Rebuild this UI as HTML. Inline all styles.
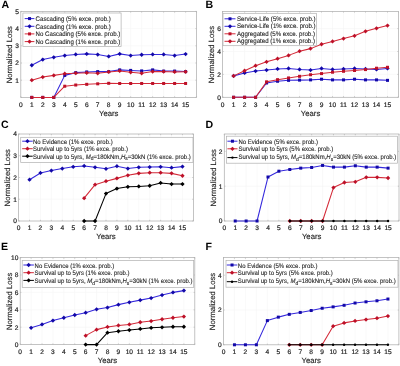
<!DOCTYPE html>
<html><head><meta charset="utf-8"><style>
html,body{margin:0;padding:0;background:#fff;width:400px;height:366px;overflow:hidden}
svg{display:block;font-family:"Liberation Sans", sans-serif;filter:blur(0.3px);text-rendering:geometricPrecision}
text.t{stroke:#2a2a2a;stroke-width:0.12px}
text.n{stroke:#262626;stroke-width:0.2px}
text.lab{stroke:#2a2a2a;stroke-width:0.16px}
</style></head><body>
<svg width="400" height="366" viewBox="0 0 400 366">
<rect width="400" height="366" fill="#fff"/>
<line x1="31.79" y1="11.4" x2="31.79" y2="97.4" stroke="#f5f5f5" stroke-width="0.6"/>
<line x1="42.77" y1="11.4" x2="42.77" y2="97.4" stroke="#f5f5f5" stroke-width="0.6"/>
<line x1="53.76" y1="11.4" x2="53.76" y2="97.4" stroke="#f5f5f5" stroke-width="0.6"/>
<line x1="64.75" y1="11.4" x2="64.75" y2="97.4" stroke="#f5f5f5" stroke-width="0.6"/>
<line x1="75.74" y1="11.4" x2="75.74" y2="97.4" stroke="#f5f5f5" stroke-width="0.6"/>
<line x1="86.72" y1="11.4" x2="86.72" y2="97.4" stroke="#f5f5f5" stroke-width="0.6"/>
<line x1="97.71" y1="11.4" x2="97.71" y2="97.4" stroke="#f5f5f5" stroke-width="0.6"/>
<line x1="108.70" y1="11.4" x2="108.70" y2="97.4" stroke="#f5f5f5" stroke-width="0.6"/>
<line x1="119.69" y1="11.4" x2="119.69" y2="97.4" stroke="#f5f5f5" stroke-width="0.6"/>
<line x1="130.67" y1="11.4" x2="130.67" y2="97.4" stroke="#f5f5f5" stroke-width="0.6"/>
<line x1="141.66" y1="11.4" x2="141.66" y2="97.4" stroke="#f5f5f5" stroke-width="0.6"/>
<line x1="152.65" y1="11.4" x2="152.65" y2="97.4" stroke="#f5f5f5" stroke-width="0.6"/>
<line x1="163.64" y1="11.4" x2="163.64" y2="97.4" stroke="#f5f5f5" stroke-width="0.6"/>
<line x1="174.62" y1="11.4" x2="174.62" y2="97.4" stroke="#f5f5f5" stroke-width="0.6"/>
<line x1="185.61" y1="11.4" x2="185.61" y2="97.4" stroke="#f5f5f5" stroke-width="0.6"/>
<line x1="20.8" y1="80.20" x2="196.6" y2="80.20" stroke="#f5f5f5" stroke-width="0.6"/>
<line x1="20.8" y1="63.00" x2="196.6" y2="63.00" stroke="#f5f5f5" stroke-width="0.6"/>
<line x1="20.8" y1="45.80" x2="196.6" y2="45.80" stroke="#f5f5f5" stroke-width="0.6"/>
<line x1="20.8" y1="28.60" x2="196.6" y2="28.60" stroke="#f5f5f5" stroke-width="0.6"/>
<rect x="20.8" y="11.4" width="175.80" height="86.00" fill="none" stroke="#b0b0b0" stroke-width="0.75"/>
<line x1="20.80" y1="97.4" x2="20.80" y2="96.2" stroke="#b0b0b0" stroke-width="0.6"/>
<line x1="20.80" y1="11.4" x2="20.80" y2="12.6" stroke="#b0b0b0" stroke-width="0.6"/>
<line x1="31.79" y1="97.4" x2="31.79" y2="96.2" stroke="#b0b0b0" stroke-width="0.6"/>
<line x1="31.79" y1="11.4" x2="31.79" y2="12.6" stroke="#b0b0b0" stroke-width="0.6"/>
<line x1="42.77" y1="97.4" x2="42.77" y2="96.2" stroke="#b0b0b0" stroke-width="0.6"/>
<line x1="42.77" y1="11.4" x2="42.77" y2="12.6" stroke="#b0b0b0" stroke-width="0.6"/>
<line x1="53.76" y1="97.4" x2="53.76" y2="96.2" stroke="#b0b0b0" stroke-width="0.6"/>
<line x1="53.76" y1="11.4" x2="53.76" y2="12.6" stroke="#b0b0b0" stroke-width="0.6"/>
<line x1="64.75" y1="97.4" x2="64.75" y2="96.2" stroke="#b0b0b0" stroke-width="0.6"/>
<line x1="64.75" y1="11.4" x2="64.75" y2="12.6" stroke="#b0b0b0" stroke-width="0.6"/>
<line x1="75.74" y1="97.4" x2="75.74" y2="96.2" stroke="#b0b0b0" stroke-width="0.6"/>
<line x1="75.74" y1="11.4" x2="75.74" y2="12.6" stroke="#b0b0b0" stroke-width="0.6"/>
<line x1="86.72" y1="97.4" x2="86.72" y2="96.2" stroke="#b0b0b0" stroke-width="0.6"/>
<line x1="86.72" y1="11.4" x2="86.72" y2="12.6" stroke="#b0b0b0" stroke-width="0.6"/>
<line x1="97.71" y1="97.4" x2="97.71" y2="96.2" stroke="#b0b0b0" stroke-width="0.6"/>
<line x1="97.71" y1="11.4" x2="97.71" y2="12.6" stroke="#b0b0b0" stroke-width="0.6"/>
<line x1="108.70" y1="97.4" x2="108.70" y2="96.2" stroke="#b0b0b0" stroke-width="0.6"/>
<line x1="108.70" y1="11.4" x2="108.70" y2="12.6" stroke="#b0b0b0" stroke-width="0.6"/>
<line x1="119.69" y1="97.4" x2="119.69" y2="96.2" stroke="#b0b0b0" stroke-width="0.6"/>
<line x1="119.69" y1="11.4" x2="119.69" y2="12.6" stroke="#b0b0b0" stroke-width="0.6"/>
<line x1="130.67" y1="97.4" x2="130.67" y2="96.2" stroke="#b0b0b0" stroke-width="0.6"/>
<line x1="130.67" y1="11.4" x2="130.67" y2="12.6" stroke="#b0b0b0" stroke-width="0.6"/>
<line x1="141.66" y1="97.4" x2="141.66" y2="96.2" stroke="#b0b0b0" stroke-width="0.6"/>
<line x1="141.66" y1="11.4" x2="141.66" y2="12.6" stroke="#b0b0b0" stroke-width="0.6"/>
<line x1="152.65" y1="97.4" x2="152.65" y2="96.2" stroke="#b0b0b0" stroke-width="0.6"/>
<line x1="152.65" y1="11.4" x2="152.65" y2="12.6" stroke="#b0b0b0" stroke-width="0.6"/>
<line x1="163.64" y1="97.4" x2="163.64" y2="96.2" stroke="#b0b0b0" stroke-width="0.6"/>
<line x1="163.64" y1="11.4" x2="163.64" y2="12.6" stroke="#b0b0b0" stroke-width="0.6"/>
<line x1="174.62" y1="97.4" x2="174.62" y2="96.2" stroke="#b0b0b0" stroke-width="0.6"/>
<line x1="174.62" y1="11.4" x2="174.62" y2="12.6" stroke="#b0b0b0" stroke-width="0.6"/>
<line x1="185.61" y1="97.4" x2="185.61" y2="96.2" stroke="#b0b0b0" stroke-width="0.6"/>
<line x1="185.61" y1="11.4" x2="185.61" y2="12.6" stroke="#b0b0b0" stroke-width="0.6"/>
<line x1="196.60" y1="97.4" x2="196.60" y2="96.2" stroke="#b0b0b0" stroke-width="0.6"/>
<line x1="196.60" y1="11.4" x2="196.60" y2="12.6" stroke="#b0b0b0" stroke-width="0.6"/>
<line x1="20.8" y1="97.40" x2="22.0" y2="97.40" stroke="#b0b0b0" stroke-width="0.6"/>
<line x1="196.6" y1="97.40" x2="195.4" y2="97.40" stroke="#b0b0b0" stroke-width="0.6"/>
<line x1="20.8" y1="80.20" x2="22.0" y2="80.20" stroke="#b0b0b0" stroke-width="0.6"/>
<line x1="196.6" y1="80.20" x2="195.4" y2="80.20" stroke="#b0b0b0" stroke-width="0.6"/>
<line x1="20.8" y1="63.00" x2="22.0" y2="63.00" stroke="#b0b0b0" stroke-width="0.6"/>
<line x1="196.6" y1="63.00" x2="195.4" y2="63.00" stroke="#b0b0b0" stroke-width="0.6"/>
<line x1="20.8" y1="45.80" x2="22.0" y2="45.80" stroke="#b0b0b0" stroke-width="0.6"/>
<line x1="196.6" y1="45.80" x2="195.4" y2="45.80" stroke="#b0b0b0" stroke-width="0.6"/>
<line x1="20.8" y1="28.60" x2="22.0" y2="28.60" stroke="#b0b0b0" stroke-width="0.6"/>
<line x1="196.6" y1="28.60" x2="195.4" y2="28.60" stroke="#b0b0b0" stroke-width="0.6"/>
<line x1="20.8" y1="11.40" x2="22.0" y2="11.40" stroke="#b0b0b0" stroke-width="0.6"/>
<line x1="196.6" y1="11.40" x2="195.4" y2="11.40" stroke="#b0b0b0" stroke-width="0.6"/>
<text x="20.80" y="106.80" class="n" text-anchor="middle" font-size="6.6" fill="#222">0</text>
<text x="31.79" y="106.80" class="n" text-anchor="middle" font-size="6.6" fill="#222">1</text>
<text x="42.77" y="106.80" class="n" text-anchor="middle" font-size="6.6" fill="#222">2</text>
<text x="53.76" y="106.80" class="n" text-anchor="middle" font-size="6.6" fill="#222">3</text>
<text x="64.75" y="106.80" class="n" text-anchor="middle" font-size="6.6" fill="#222">4</text>
<text x="75.74" y="106.80" class="n" text-anchor="middle" font-size="6.6" fill="#222">5</text>
<text x="86.72" y="106.80" class="n" text-anchor="middle" font-size="6.6" fill="#222">6</text>
<text x="97.71" y="106.80" class="n" text-anchor="middle" font-size="6.6" fill="#222">7</text>
<text x="108.70" y="106.80" class="n" text-anchor="middle" font-size="6.6" fill="#222">8</text>
<text x="119.69" y="106.80" class="n" text-anchor="middle" font-size="6.6" fill="#222">9</text>
<text x="130.67" y="106.80" class="n" text-anchor="middle" font-size="6.6" fill="#222">10</text>
<text x="141.66" y="106.80" class="n" text-anchor="middle" font-size="6.6" fill="#222">11</text>
<text x="152.65" y="106.80" class="n" text-anchor="middle" font-size="6.6" fill="#222">12</text>
<text x="163.64" y="106.80" class="n" text-anchor="middle" font-size="6.6" fill="#222">13</text>
<text x="174.62" y="106.80" class="n" text-anchor="middle" font-size="6.6" fill="#222">14</text>
<text x="185.61" y="106.80" class="n" text-anchor="middle" font-size="6.6" fill="#222">15</text>
<text x="19.00" y="82.60" class="n" text-anchor="end" font-size="6.6" fill="#222">1</text>
<text x="19.00" y="65.40" class="n" text-anchor="end" font-size="6.6" fill="#222">2</text>
<text x="19.00" y="48.20" class="n" text-anchor="end" font-size="6.6" fill="#222">3</text>
<text x="19.00" y="31.00" class="n" text-anchor="end" font-size="6.6" fill="#222">4</text>
<text x="19.00" y="13.80" class="n" text-anchor="end" font-size="6.6" fill="#222">5</text>
<text x="108.70" y="115.80" class="lab" text-anchor="middle" font-size="7.7" fill="#2a2a2a">Years</text>
<text transform="translate(12.30,54.70) rotate(-90)" x="0" y="0" class="lab" text-anchor="middle" font-size="7.7" fill="#2a2a2a">Normalized Loss</text>
<text x="1.5" y="7.5" font-size="10.6" font-weight="bold" fill="#000">A</text>
<polyline points="31.79,97.40 42.77,97.40 53.76,97.40 64.75,75.38 75.74,72.63 86.72,71.94 97.71,71.60 108.70,71.60 119.69,69.88 130.67,70.40 141.66,70.91 152.65,69.88 163.64,71.08 174.62,71.08 185.61,71.60" fill="none" stroke="#3428dc" stroke-width="1.05" stroke-linejoin="round"/>
<rect x="30.29" y="95.90" width="3.00" height="3.00" fill="#1208a8"/>
<rect x="41.27" y="95.90" width="3.00" height="3.00" fill="#1208a8"/>
<rect x="52.26" y="95.90" width="3.00" height="3.00" fill="#1208a8"/>
<rect x="63.25" y="73.88" width="3.00" height="3.00" fill="#1208a8"/>
<rect x="74.24" y="71.13" width="3.00" height="3.00" fill="#1208a8"/>
<rect x="85.22" y="70.44" width="3.00" height="3.00" fill="#1208a8"/>
<rect x="96.21" y="70.10" width="3.00" height="3.00" fill="#1208a8"/>
<rect x="107.20" y="70.10" width="3.00" height="3.00" fill="#1208a8"/>
<rect x="118.19" y="68.38" width="3.00" height="3.00" fill="#1208a8"/>
<rect x="129.17" y="68.90" width="3.00" height="3.00" fill="#1208a8"/>
<rect x="140.16" y="69.41" width="3.00" height="3.00" fill="#1208a8"/>
<rect x="151.15" y="68.38" width="3.00" height="3.00" fill="#1208a8"/>
<rect x="162.14" y="69.58" width="3.00" height="3.00" fill="#1208a8"/>
<rect x="173.12" y="69.58" width="3.00" height="3.00" fill="#1208a8"/>
<rect x="184.11" y="70.10" width="3.00" height="3.00" fill="#1208a8"/>
<polyline points="31.79,65.24 42.77,59.56 53.76,57.32 64.75,55.60 75.74,54.40 86.72,53.88 97.71,54.57 108.70,56.46 119.69,53.88 130.67,55.60 141.66,54.74 152.65,54.40 163.64,54.40 174.62,55.60 185.61,54.06" fill="none" stroke="#3428dc" stroke-width="1.05" stroke-linejoin="round"/>
<path d="M31.79 63.09L33.94 65.24L31.79 67.39L29.64 65.24Z" fill="#1208a8"/>
<path d="M42.77 57.41L44.92 59.56L42.77 61.71L40.62 59.56Z" fill="#1208a8"/>
<path d="M53.76 55.17L55.91 57.32L53.76 59.47L51.61 57.32Z" fill="#1208a8"/>
<path d="M64.75 53.45L66.90 55.60L64.75 57.75L62.60 55.60Z" fill="#1208a8"/>
<path d="M75.74 52.25L77.89 54.40L75.74 56.55L73.59 54.40Z" fill="#1208a8"/>
<path d="M86.72 51.73L88.88 53.88L86.72 56.03L84.57 53.88Z" fill="#1208a8"/>
<path d="M97.71 52.42L99.86 54.57L97.71 56.72L95.56 54.57Z" fill="#1208a8"/>
<path d="M108.70 54.31L110.85 56.46L108.70 58.61L106.55 56.46Z" fill="#1208a8"/>
<path d="M119.69 51.73L121.84 53.88L119.69 56.03L117.54 53.88Z" fill="#1208a8"/>
<path d="M130.67 53.45L132.82 55.60L130.67 57.75L128.52 55.60Z" fill="#1208a8"/>
<path d="M141.66 52.59L143.81 54.74L141.66 56.89L139.51 54.74Z" fill="#1208a8"/>
<path d="M152.65 52.25L154.80 54.40L152.65 56.55L150.50 54.40Z" fill="#1208a8"/>
<path d="M163.64 52.25L165.79 54.40L163.64 56.55L161.49 54.40Z" fill="#1208a8"/>
<path d="M174.62 53.45L176.78 55.60L174.62 57.75L172.47 55.60Z" fill="#1208a8"/>
<path d="M185.61 51.91L187.76 54.06L185.61 56.21L183.46 54.06Z" fill="#1208a8"/>
<polyline points="31.79,97.40 42.77,97.40 53.76,97.40 64.75,86.22 75.74,85.02 86.72,84.33 97.71,83.81 108.70,83.30 119.69,83.47 130.67,83.47 141.66,83.47 152.65,83.47 163.64,83.47 174.62,83.47 185.61,83.47" fill="none" stroke="#d42a38" stroke-width="1.05" stroke-linejoin="round"/>
<rect x="30.29" y="95.90" width="3.00" height="3.00" fill="#bd1028"/>
<rect x="41.27" y="95.90" width="3.00" height="3.00" fill="#bd1028"/>
<rect x="52.26" y="95.90" width="3.00" height="3.00" fill="#bd1028"/>
<rect x="63.25" y="84.72" width="3.00" height="3.00" fill="#bd1028"/>
<rect x="74.24" y="83.52" width="3.00" height="3.00" fill="#bd1028"/>
<rect x="85.22" y="82.83" width="3.00" height="3.00" fill="#bd1028"/>
<rect x="96.21" y="82.31" width="3.00" height="3.00" fill="#bd1028"/>
<rect x="107.20" y="81.80" width="3.00" height="3.00" fill="#bd1028"/>
<rect x="118.19" y="81.97" width="3.00" height="3.00" fill="#bd1028"/>
<rect x="129.17" y="81.97" width="3.00" height="3.00" fill="#bd1028"/>
<rect x="140.16" y="81.97" width="3.00" height="3.00" fill="#bd1028"/>
<rect x="151.15" y="81.97" width="3.00" height="3.00" fill="#bd1028"/>
<rect x="162.14" y="81.97" width="3.00" height="3.00" fill="#bd1028"/>
<rect x="173.12" y="81.97" width="3.00" height="3.00" fill="#bd1028"/>
<rect x="184.11" y="81.97" width="3.00" height="3.00" fill="#bd1028"/>
<polyline points="31.79,80.20 42.77,77.10 53.76,75.38 64.75,73.66 75.74,73.15 86.72,72.80 97.71,73.32 108.70,71.94 119.69,70.91 130.67,72.29 141.66,73.32 152.65,71.60 163.64,71.60 174.62,71.94 185.61,71.77" fill="none" stroke="#d42a38" stroke-width="1.05" stroke-linejoin="round"/>
<path d="M31.79 78.05L33.94 80.20L31.79 82.35L29.64 80.20Z" fill="#bd1028"/>
<path d="M42.77 74.95L44.92 77.10L42.77 79.25L40.62 77.10Z" fill="#bd1028"/>
<path d="M53.76 73.23L55.91 75.38L53.76 77.53L51.61 75.38Z" fill="#bd1028"/>
<path d="M64.75 71.51L66.90 73.66L64.75 75.81L62.60 73.66Z" fill="#bd1028"/>
<path d="M75.74 71.00L77.89 73.15L75.74 75.30L73.59 73.15Z" fill="#bd1028"/>
<path d="M86.72 70.65L88.88 72.80L86.72 74.95L84.57 72.80Z" fill="#bd1028"/>
<path d="M97.71 71.17L99.86 73.32L97.71 75.47L95.56 73.32Z" fill="#bd1028"/>
<path d="M108.70 69.79L110.85 71.94L108.70 74.09L106.55 71.94Z" fill="#bd1028"/>
<path d="M119.69 68.76L121.84 70.91L119.69 73.06L117.54 70.91Z" fill="#bd1028"/>
<path d="M130.67 70.14L132.82 72.29L130.67 74.44L128.52 72.29Z" fill="#bd1028"/>
<path d="M141.66 71.17L143.81 73.32L141.66 75.47L139.51 73.32Z" fill="#bd1028"/>
<path d="M152.65 69.45L154.80 71.60L152.65 73.75L150.50 71.60Z" fill="#bd1028"/>
<path d="M163.64 69.45L165.79 71.60L163.64 73.75L161.49 71.60Z" fill="#bd1028"/>
<path d="M174.62 69.79L176.78 71.94L174.62 74.09L172.47 71.94Z" fill="#bd1028"/>
<path d="M185.61 69.62L187.76 71.77L185.61 73.92L183.46 71.77Z" fill="#bd1028"/>
<rect x="22.9" y="13.0" width="98.2" height="33.6" fill="#fff" stroke="#b0b0b0" stroke-width="0.7"/>
<line x1="24.7" y1="18.6" x2="34.4" y2="18.6" stroke="#3428dc" stroke-width="1.0"/>
<rect x="28.05" y="17.10" width="3.00" height="3.00" fill="#1208a8"/>
<text transform="translate(35.6,20.80) scale(0.92,1)" font-size="6.63" fill="#262626" class="t">Cascading (5% exce. prob.)</text>
<line x1="24.7" y1="26.3" x2="34.4" y2="26.3" stroke="#3428dc" stroke-width="1.0"/>
<path d="M29.55 24.15L31.70 26.30L29.55 28.45L27.40 26.30Z" fill="#1208a8"/>
<text transform="translate(35.6,28.50) scale(0.92,1)" font-size="6.63" fill="#262626" class="t">Cascading (1% exce. prob.)</text>
<line x1="24.7" y1="33.9" x2="34.4" y2="33.9" stroke="#d42a38" stroke-width="1.0"/>
<rect x="28.05" y="32.40" width="3.00" height="3.00" fill="#bd1028"/>
<text transform="translate(35.6,36.10) scale(0.92,1)" font-size="6.63" fill="#262626" class="t">No Cascading (5% exce. prob.)</text>
<line x1="24.7" y1="41.6" x2="34.4" y2="41.6" stroke="#d42a38" stroke-width="1.0"/>
<path d="M29.55 39.45L31.70 41.60L29.55 43.75L27.40 41.60Z" fill="#bd1028"/>
<text transform="translate(35.6,43.80) scale(0.92,1)" font-size="6.63" fill="#262626" class="t">No Cascading (1% exce. prob.)</text>
<line x1="233.59" y1="11.4" x2="233.59" y2="97.3" stroke="#f5f5f5" stroke-width="0.6"/>
<line x1="244.59" y1="11.4" x2="244.59" y2="97.3" stroke="#f5f5f5" stroke-width="0.6"/>
<line x1="255.58" y1="11.4" x2="255.58" y2="97.3" stroke="#f5f5f5" stroke-width="0.6"/>
<line x1="266.57" y1="11.4" x2="266.57" y2="97.3" stroke="#f5f5f5" stroke-width="0.6"/>
<line x1="277.57" y1="11.4" x2="277.57" y2="97.3" stroke="#f5f5f5" stroke-width="0.6"/>
<line x1="288.56" y1="11.4" x2="288.56" y2="97.3" stroke="#f5f5f5" stroke-width="0.6"/>
<line x1="299.56" y1="11.4" x2="299.56" y2="97.3" stroke="#f5f5f5" stroke-width="0.6"/>
<line x1="310.55" y1="11.4" x2="310.55" y2="97.3" stroke="#f5f5f5" stroke-width="0.6"/>
<line x1="321.54" y1="11.4" x2="321.54" y2="97.3" stroke="#f5f5f5" stroke-width="0.6"/>
<line x1="332.54" y1="11.4" x2="332.54" y2="97.3" stroke="#f5f5f5" stroke-width="0.6"/>
<line x1="343.53" y1="11.4" x2="343.53" y2="97.3" stroke="#f5f5f5" stroke-width="0.6"/>
<line x1="354.52" y1="11.4" x2="354.52" y2="97.3" stroke="#f5f5f5" stroke-width="0.6"/>
<line x1="365.52" y1="11.4" x2="365.52" y2="97.3" stroke="#f5f5f5" stroke-width="0.6"/>
<line x1="376.51" y1="11.4" x2="376.51" y2="97.3" stroke="#f5f5f5" stroke-width="0.6"/>
<line x1="387.51" y1="11.4" x2="387.51" y2="97.3" stroke="#f5f5f5" stroke-width="0.6"/>
<line x1="222.6" y1="74.39" x2="398.5" y2="74.39" stroke="#f5f5f5" stroke-width="0.6"/>
<line x1="222.6" y1="51.49" x2="398.5" y2="51.49" stroke="#f5f5f5" stroke-width="0.6"/>
<line x1="222.6" y1="28.58" x2="398.5" y2="28.58" stroke="#f5f5f5" stroke-width="0.6"/>
<rect x="222.6" y="11.4" width="175.90" height="85.90" fill="none" stroke="#b0b0b0" stroke-width="0.75"/>
<line x1="222.60" y1="97.3" x2="222.60" y2="96.1" stroke="#b0b0b0" stroke-width="0.6"/>
<line x1="222.60" y1="11.4" x2="222.60" y2="12.6" stroke="#b0b0b0" stroke-width="0.6"/>
<line x1="233.59" y1="97.3" x2="233.59" y2="96.1" stroke="#b0b0b0" stroke-width="0.6"/>
<line x1="233.59" y1="11.4" x2="233.59" y2="12.6" stroke="#b0b0b0" stroke-width="0.6"/>
<line x1="244.59" y1="97.3" x2="244.59" y2="96.1" stroke="#b0b0b0" stroke-width="0.6"/>
<line x1="244.59" y1="11.4" x2="244.59" y2="12.6" stroke="#b0b0b0" stroke-width="0.6"/>
<line x1="255.58" y1="97.3" x2="255.58" y2="96.1" stroke="#b0b0b0" stroke-width="0.6"/>
<line x1="255.58" y1="11.4" x2="255.58" y2="12.6" stroke="#b0b0b0" stroke-width="0.6"/>
<line x1="266.57" y1="97.3" x2="266.57" y2="96.1" stroke="#b0b0b0" stroke-width="0.6"/>
<line x1="266.57" y1="11.4" x2="266.57" y2="12.6" stroke="#b0b0b0" stroke-width="0.6"/>
<line x1="277.57" y1="97.3" x2="277.57" y2="96.1" stroke="#b0b0b0" stroke-width="0.6"/>
<line x1="277.57" y1="11.4" x2="277.57" y2="12.6" stroke="#b0b0b0" stroke-width="0.6"/>
<line x1="288.56" y1="97.3" x2="288.56" y2="96.1" stroke="#b0b0b0" stroke-width="0.6"/>
<line x1="288.56" y1="11.4" x2="288.56" y2="12.6" stroke="#b0b0b0" stroke-width="0.6"/>
<line x1="299.56" y1="97.3" x2="299.56" y2="96.1" stroke="#b0b0b0" stroke-width="0.6"/>
<line x1="299.56" y1="11.4" x2="299.56" y2="12.6" stroke="#b0b0b0" stroke-width="0.6"/>
<line x1="310.55" y1="97.3" x2="310.55" y2="96.1" stroke="#b0b0b0" stroke-width="0.6"/>
<line x1="310.55" y1="11.4" x2="310.55" y2="12.6" stroke="#b0b0b0" stroke-width="0.6"/>
<line x1="321.54" y1="97.3" x2="321.54" y2="96.1" stroke="#b0b0b0" stroke-width="0.6"/>
<line x1="321.54" y1="11.4" x2="321.54" y2="12.6" stroke="#b0b0b0" stroke-width="0.6"/>
<line x1="332.54" y1="97.3" x2="332.54" y2="96.1" stroke="#b0b0b0" stroke-width="0.6"/>
<line x1="332.54" y1="11.4" x2="332.54" y2="12.6" stroke="#b0b0b0" stroke-width="0.6"/>
<line x1="343.53" y1="97.3" x2="343.53" y2="96.1" stroke="#b0b0b0" stroke-width="0.6"/>
<line x1="343.53" y1="11.4" x2="343.53" y2="12.6" stroke="#b0b0b0" stroke-width="0.6"/>
<line x1="354.52" y1="97.3" x2="354.52" y2="96.1" stroke="#b0b0b0" stroke-width="0.6"/>
<line x1="354.52" y1="11.4" x2="354.52" y2="12.6" stroke="#b0b0b0" stroke-width="0.6"/>
<line x1="365.52" y1="97.3" x2="365.52" y2="96.1" stroke="#b0b0b0" stroke-width="0.6"/>
<line x1="365.52" y1="11.4" x2="365.52" y2="12.6" stroke="#b0b0b0" stroke-width="0.6"/>
<line x1="376.51" y1="97.3" x2="376.51" y2="96.1" stroke="#b0b0b0" stroke-width="0.6"/>
<line x1="376.51" y1="11.4" x2="376.51" y2="12.6" stroke="#b0b0b0" stroke-width="0.6"/>
<line x1="387.51" y1="97.3" x2="387.51" y2="96.1" stroke="#b0b0b0" stroke-width="0.6"/>
<line x1="387.51" y1="11.4" x2="387.51" y2="12.6" stroke="#b0b0b0" stroke-width="0.6"/>
<line x1="398.50" y1="97.3" x2="398.50" y2="96.1" stroke="#b0b0b0" stroke-width="0.6"/>
<line x1="398.50" y1="11.4" x2="398.50" y2="12.6" stroke="#b0b0b0" stroke-width="0.6"/>
<line x1="222.6" y1="97.30" x2="223.79999999999998" y2="97.30" stroke="#b0b0b0" stroke-width="0.6"/>
<line x1="398.5" y1="97.30" x2="397.3" y2="97.30" stroke="#b0b0b0" stroke-width="0.6"/>
<line x1="222.6" y1="74.39" x2="223.79999999999998" y2="74.39" stroke="#b0b0b0" stroke-width="0.6"/>
<line x1="398.5" y1="74.39" x2="397.3" y2="74.39" stroke="#b0b0b0" stroke-width="0.6"/>
<line x1="222.6" y1="51.49" x2="223.79999999999998" y2="51.49" stroke="#b0b0b0" stroke-width="0.6"/>
<line x1="398.5" y1="51.49" x2="397.3" y2="51.49" stroke="#b0b0b0" stroke-width="0.6"/>
<line x1="222.6" y1="28.58" x2="223.79999999999998" y2="28.58" stroke="#b0b0b0" stroke-width="0.6"/>
<line x1="398.5" y1="28.58" x2="397.3" y2="28.58" stroke="#b0b0b0" stroke-width="0.6"/>
<text x="222.60" y="106.70" class="n" text-anchor="middle" font-size="6.6" fill="#222">0</text>
<text x="233.59" y="106.70" class="n" text-anchor="middle" font-size="6.6" fill="#222">1</text>
<text x="244.59" y="106.70" class="n" text-anchor="middle" font-size="6.6" fill="#222">2</text>
<text x="255.58" y="106.70" class="n" text-anchor="middle" font-size="6.6" fill="#222">3</text>
<text x="266.57" y="106.70" class="n" text-anchor="middle" font-size="6.6" fill="#222">4</text>
<text x="277.57" y="106.70" class="n" text-anchor="middle" font-size="6.6" fill="#222">5</text>
<text x="288.56" y="106.70" class="n" text-anchor="middle" font-size="6.6" fill="#222">6</text>
<text x="299.56" y="106.70" class="n" text-anchor="middle" font-size="6.6" fill="#222">7</text>
<text x="310.55" y="106.70" class="n" text-anchor="middle" font-size="6.6" fill="#222">8</text>
<text x="321.54" y="106.70" class="n" text-anchor="middle" font-size="6.6" fill="#222">9</text>
<text x="332.54" y="106.70" class="n" text-anchor="middle" font-size="6.6" fill="#222">10</text>
<text x="343.53" y="106.70" class="n" text-anchor="middle" font-size="6.6" fill="#222">11</text>
<text x="354.52" y="106.70" class="n" text-anchor="middle" font-size="6.6" fill="#222">12</text>
<text x="365.52" y="106.70" class="n" text-anchor="middle" font-size="6.6" fill="#222">13</text>
<text x="376.51" y="106.70" class="n" text-anchor="middle" font-size="6.6" fill="#222">14</text>
<text x="387.51" y="106.70" class="n" text-anchor="middle" font-size="6.6" fill="#222">15</text>
<text x="220.80" y="99.70" class="n" text-anchor="end" font-size="6.6" fill="#222">0</text>
<text x="220.80" y="76.79" class="n" text-anchor="end" font-size="6.6" fill="#222">2</text>
<text x="220.80" y="53.89" class="n" text-anchor="end" font-size="6.6" fill="#222">4</text>
<text x="220.80" y="30.98" class="n" text-anchor="end" font-size="6.6" fill="#222">6</text>
<text x="310.55" y="115.70" class="lab" text-anchor="middle" font-size="7.7" fill="#2a2a2a">Years</text>
<text transform="translate(214.10,54.65) rotate(-90)" x="0" y="0" class="lab" text-anchor="middle" font-size="7.7" fill="#2a2a2a">Normalized Loss</text>
<text x="205.5" y="7.5" font-size="10.6" font-weight="bold" fill="#000">B</text>
<polyline points="233.59,97.30 244.59,97.30 255.58,97.30 266.57,82.98 277.57,81.27 288.56,80.35 299.56,80.12 310.55,79.89 321.54,79.20 332.54,79.89 343.53,79.89 354.52,79.20 365.52,79.89 376.51,79.89 387.51,80.35" fill="none" stroke="#3428dc" stroke-width="1.05" stroke-linejoin="round"/>
<rect x="232.09" y="95.80" width="3.00" height="3.00" fill="#1208a8"/>
<rect x="243.09" y="95.80" width="3.00" height="3.00" fill="#1208a8"/>
<rect x="254.08" y="95.80" width="3.00" height="3.00" fill="#1208a8"/>
<rect x="265.07" y="81.48" width="3.00" height="3.00" fill="#1208a8"/>
<rect x="276.07" y="79.77" width="3.00" height="3.00" fill="#1208a8"/>
<rect x="287.06" y="78.85" width="3.00" height="3.00" fill="#1208a8"/>
<rect x="298.06" y="78.62" width="3.00" height="3.00" fill="#1208a8"/>
<rect x="309.05" y="78.39" width="3.00" height="3.00" fill="#1208a8"/>
<rect x="320.04" y="77.70" width="3.00" height="3.00" fill="#1208a8"/>
<rect x="331.04" y="78.39" width="3.00" height="3.00" fill="#1208a8"/>
<rect x="342.03" y="78.39" width="3.00" height="3.00" fill="#1208a8"/>
<rect x="353.02" y="77.70" width="3.00" height="3.00" fill="#1208a8"/>
<rect x="364.02" y="78.39" width="3.00" height="3.00" fill="#1208a8"/>
<rect x="375.01" y="78.39" width="3.00" height="3.00" fill="#1208a8"/>
<rect x="386.01" y="78.85" width="3.00" height="3.00" fill="#1208a8"/>
<polyline points="233.59,75.88 244.59,72.90 255.58,71.07 266.57,70.04 277.57,68.90 288.56,68.44 299.56,69.47 310.55,70.04 321.54,68.44 332.54,69.47 343.53,68.90 354.52,68.44 365.52,68.90 376.51,69.47 387.51,68.44" fill="none" stroke="#3428dc" stroke-width="1.05" stroke-linejoin="round"/>
<path d="M233.59 73.73L235.74 75.88L233.59 78.03L231.44 75.88Z" fill="#1208a8"/>
<path d="M244.59 70.75L246.74 72.90L244.59 75.05L242.44 72.90Z" fill="#1208a8"/>
<path d="M255.58 68.92L257.73 71.07L255.58 73.22L253.43 71.07Z" fill="#1208a8"/>
<path d="M266.57 67.89L268.72 70.04L266.57 72.19L264.43 70.04Z" fill="#1208a8"/>
<path d="M277.57 66.75L279.72 68.90L277.57 71.05L275.42 68.90Z" fill="#1208a8"/>
<path d="M288.56 66.29L290.71 68.44L288.56 70.59L286.41 68.44Z" fill="#1208a8"/>
<path d="M299.56 67.32L301.71 69.47L299.56 71.62L297.41 69.47Z" fill="#1208a8"/>
<path d="M310.55 67.89L312.70 70.04L310.55 72.19L308.40 70.04Z" fill="#1208a8"/>
<path d="M321.54 66.29L323.69 68.44L321.54 70.59L319.39 68.44Z" fill="#1208a8"/>
<path d="M332.54 67.32L334.69 69.47L332.54 71.62L330.39 69.47Z" fill="#1208a8"/>
<path d="M343.53 66.75L345.68 68.90L343.53 71.05L341.38 68.90Z" fill="#1208a8"/>
<path d="M354.52 66.29L356.67 68.44L354.52 70.59L352.38 68.44Z" fill="#1208a8"/>
<path d="M365.52 66.75L367.67 68.90L365.52 71.05L363.37 68.90Z" fill="#1208a8"/>
<path d="M376.51 67.32L378.66 69.47L376.51 71.62L374.36 69.47Z" fill="#1208a8"/>
<path d="M387.51 66.29L389.66 68.44L387.51 70.59L385.36 68.44Z" fill="#1208a8"/>
<polyline points="233.59,97.30 244.59,97.30 255.58,97.30 266.57,81.84 277.57,79.66 288.56,77.94 299.56,76.34 310.55,74.74 321.54,73.59 332.54,72.22 343.53,71.30 354.52,70.50 365.52,69.58 376.51,68.21 387.51,67.29" fill="none" stroke="#d42a38" stroke-width="1.05" stroke-linejoin="round"/>
<rect x="232.09" y="95.80" width="3.00" height="3.00" fill="#bd1028"/>
<rect x="243.09" y="95.80" width="3.00" height="3.00" fill="#bd1028"/>
<rect x="254.08" y="95.80" width="3.00" height="3.00" fill="#bd1028"/>
<rect x="265.07" y="80.34" width="3.00" height="3.00" fill="#bd1028"/>
<rect x="276.07" y="78.16" width="3.00" height="3.00" fill="#bd1028"/>
<rect x="287.06" y="76.44" width="3.00" height="3.00" fill="#bd1028"/>
<rect x="298.06" y="74.84" width="3.00" height="3.00" fill="#bd1028"/>
<rect x="309.05" y="73.24" width="3.00" height="3.00" fill="#bd1028"/>
<rect x="320.04" y="72.09" width="3.00" height="3.00" fill="#bd1028"/>
<rect x="331.04" y="70.72" width="3.00" height="3.00" fill="#bd1028"/>
<rect x="342.03" y="69.80" width="3.00" height="3.00" fill="#bd1028"/>
<rect x="353.02" y="69.00" width="3.00" height="3.00" fill="#bd1028"/>
<rect x="364.02" y="68.08" width="3.00" height="3.00" fill="#bd1028"/>
<rect x="375.01" y="66.71" width="3.00" height="3.00" fill="#bd1028"/>
<rect x="386.01" y="65.79" width="3.00" height="3.00" fill="#bd1028"/>
<polyline points="233.59,75.88 244.59,70.73 255.58,65.69 266.57,61.79 277.57,58.70 288.56,55.38 299.56,51.14 310.55,48.62 321.54,44.27 332.54,41.41 343.53,38.54 354.52,35.80 365.52,31.33 376.51,28.35 387.51,25.60" fill="none" stroke="#d42a38" stroke-width="1.05" stroke-linejoin="round"/>
<path d="M233.59 73.73L235.74 75.88L233.59 78.03L231.44 75.88Z" fill="#bd1028"/>
<path d="M244.59 68.58L246.74 70.73L244.59 72.88L242.44 70.73Z" fill="#bd1028"/>
<path d="M255.58 63.54L257.73 65.69L255.58 67.84L253.43 65.69Z" fill="#bd1028"/>
<path d="M266.57 59.64L268.72 61.79L266.57 63.94L264.43 61.79Z" fill="#bd1028"/>
<path d="M277.57 56.55L279.72 58.70L277.57 60.85L275.42 58.70Z" fill="#bd1028"/>
<path d="M288.56 53.23L290.71 55.38L288.56 57.53L286.41 55.38Z" fill="#bd1028"/>
<path d="M299.56 48.99L301.71 51.14L299.56 53.29L297.41 51.14Z" fill="#bd1028"/>
<path d="M310.55 46.47L312.70 48.62L310.55 50.77L308.40 48.62Z" fill="#bd1028"/>
<path d="M321.54 42.12L323.69 44.27L321.54 46.42L319.39 44.27Z" fill="#bd1028"/>
<path d="M332.54 39.26L334.69 41.41L332.54 43.56L330.39 41.41Z" fill="#bd1028"/>
<path d="M343.53 36.39L345.68 38.54L343.53 40.69L341.38 38.54Z" fill="#bd1028"/>
<path d="M354.52 33.65L356.67 35.80L354.52 37.95L352.38 35.80Z" fill="#bd1028"/>
<path d="M365.52 29.18L367.67 31.33L365.52 33.48L363.37 31.33Z" fill="#bd1028"/>
<path d="M376.51 26.20L378.66 28.35L376.51 30.50L374.36 28.35Z" fill="#bd1028"/>
<path d="M387.51 23.45L389.66 25.60L387.51 27.75L385.36 25.60Z" fill="#bd1028"/>
<rect x="223.0" y="13.3" width="93.6" height="32.4" fill="#fff" stroke="#b0b0b0" stroke-width="0.7"/>
<line x1="224.5" y1="18.8" x2="235.5" y2="18.8" stroke="#3428dc" stroke-width="1.0"/>
<rect x="228.50" y="17.30" width="3.00" height="3.00" fill="#1208a8"/>
<text transform="translate(237.0,20.90) scale(0.92,1)" font-size="6.63" fill="#262626" class="t">Service-Life (5% exce. prob.)</text>
<line x1="224.5" y1="26.3" x2="235.5" y2="26.3" stroke="#3428dc" stroke-width="1.0"/>
<path d="M230.00 24.15L232.15 26.30L230.00 28.45L227.85 26.30Z" fill="#1208a8"/>
<text transform="translate(237.0,28.40) scale(0.92,1)" font-size="6.63" fill="#262626" class="t">Service-Life (1% exce. prob.)</text>
<line x1="224.5" y1="33.8" x2="235.5" y2="33.8" stroke="#d42a38" stroke-width="1.0"/>
<rect x="228.50" y="32.30" width="3.00" height="3.00" fill="#bd1028"/>
<text transform="translate(237.0,35.90) scale(0.92,1)" font-size="6.63" fill="#262626" class="t">Aggregated (5% exce. prob.)</text>
<line x1="224.5" y1="41.3" x2="235.5" y2="41.3" stroke="#d42a38" stroke-width="1.0"/>
<path d="M230.00 39.15L232.15 41.30L230.00 43.45L227.85 41.30Z" fill="#bd1028"/>
<text transform="translate(237.0,43.40) scale(0.92,1)" font-size="6.63" fill="#262626" class="t">Aggregated (1% exce. prob.)</text>
<line x1="29.53" y1="134.0" x2="29.53" y2="221.0" stroke="#f5f5f5" stroke-width="0.6"/>
<line x1="40.45" y1="134.0" x2="40.45" y2="221.0" stroke="#f5f5f5" stroke-width="0.6"/>
<line x1="51.38" y1="134.0" x2="51.38" y2="221.0" stroke="#f5f5f5" stroke-width="0.6"/>
<line x1="62.30" y1="134.0" x2="62.30" y2="221.0" stroke="#f5f5f5" stroke-width="0.6"/>
<line x1="73.22" y1="134.0" x2="73.22" y2="221.0" stroke="#f5f5f5" stroke-width="0.6"/>
<line x1="84.15" y1="134.0" x2="84.15" y2="221.0" stroke="#f5f5f5" stroke-width="0.6"/>
<line x1="95.08" y1="134.0" x2="95.08" y2="221.0" stroke="#f5f5f5" stroke-width="0.6"/>
<line x1="106.00" y1="134.0" x2="106.00" y2="221.0" stroke="#f5f5f5" stroke-width="0.6"/>
<line x1="116.93" y1="134.0" x2="116.93" y2="221.0" stroke="#f5f5f5" stroke-width="0.6"/>
<line x1="127.85" y1="134.0" x2="127.85" y2="221.0" stroke="#f5f5f5" stroke-width="0.6"/>
<line x1="138.78" y1="134.0" x2="138.78" y2="221.0" stroke="#f5f5f5" stroke-width="0.6"/>
<line x1="149.70" y1="134.0" x2="149.70" y2="221.0" stroke="#f5f5f5" stroke-width="0.6"/>
<line x1="160.62" y1="134.0" x2="160.62" y2="221.0" stroke="#f5f5f5" stroke-width="0.6"/>
<line x1="171.55" y1="134.0" x2="171.55" y2="221.0" stroke="#f5f5f5" stroke-width="0.6"/>
<line x1="182.47" y1="134.0" x2="182.47" y2="221.0" stroke="#f5f5f5" stroke-width="0.6"/>
<line x1="18.6" y1="199.25" x2="193.4" y2="199.25" stroke="#f5f5f5" stroke-width="0.6"/>
<line x1="18.6" y1="177.50" x2="193.4" y2="177.50" stroke="#f5f5f5" stroke-width="0.6"/>
<line x1="18.6" y1="155.75" x2="193.4" y2="155.75" stroke="#f5f5f5" stroke-width="0.6"/>
<rect x="18.6" y="134.0" width="174.80" height="87.00" fill="none" stroke="#b0b0b0" stroke-width="0.75"/>
<line x1="18.60" y1="221.0" x2="18.60" y2="219.8" stroke="#b0b0b0" stroke-width="0.6"/>
<line x1="18.60" y1="134.0" x2="18.60" y2="135.2" stroke="#b0b0b0" stroke-width="0.6"/>
<line x1="29.53" y1="221.0" x2="29.53" y2="219.8" stroke="#b0b0b0" stroke-width="0.6"/>
<line x1="29.53" y1="134.0" x2="29.53" y2="135.2" stroke="#b0b0b0" stroke-width="0.6"/>
<line x1="40.45" y1="221.0" x2="40.45" y2="219.8" stroke="#b0b0b0" stroke-width="0.6"/>
<line x1="40.45" y1="134.0" x2="40.45" y2="135.2" stroke="#b0b0b0" stroke-width="0.6"/>
<line x1="51.38" y1="221.0" x2="51.38" y2="219.8" stroke="#b0b0b0" stroke-width="0.6"/>
<line x1="51.38" y1="134.0" x2="51.38" y2="135.2" stroke="#b0b0b0" stroke-width="0.6"/>
<line x1="62.30" y1="221.0" x2="62.30" y2="219.8" stroke="#b0b0b0" stroke-width="0.6"/>
<line x1="62.30" y1="134.0" x2="62.30" y2="135.2" stroke="#b0b0b0" stroke-width="0.6"/>
<line x1="73.22" y1="221.0" x2="73.22" y2="219.8" stroke="#b0b0b0" stroke-width="0.6"/>
<line x1="73.22" y1="134.0" x2="73.22" y2="135.2" stroke="#b0b0b0" stroke-width="0.6"/>
<line x1="84.15" y1="221.0" x2="84.15" y2="219.8" stroke="#b0b0b0" stroke-width="0.6"/>
<line x1="84.15" y1="134.0" x2="84.15" y2="135.2" stroke="#b0b0b0" stroke-width="0.6"/>
<line x1="95.08" y1="221.0" x2="95.08" y2="219.8" stroke="#b0b0b0" stroke-width="0.6"/>
<line x1="95.08" y1="134.0" x2="95.08" y2="135.2" stroke="#b0b0b0" stroke-width="0.6"/>
<line x1="106.00" y1="221.0" x2="106.00" y2="219.8" stroke="#b0b0b0" stroke-width="0.6"/>
<line x1="106.00" y1="134.0" x2="106.00" y2="135.2" stroke="#b0b0b0" stroke-width="0.6"/>
<line x1="116.93" y1="221.0" x2="116.93" y2="219.8" stroke="#b0b0b0" stroke-width="0.6"/>
<line x1="116.93" y1="134.0" x2="116.93" y2="135.2" stroke="#b0b0b0" stroke-width="0.6"/>
<line x1="127.85" y1="221.0" x2="127.85" y2="219.8" stroke="#b0b0b0" stroke-width="0.6"/>
<line x1="127.85" y1="134.0" x2="127.85" y2="135.2" stroke="#b0b0b0" stroke-width="0.6"/>
<line x1="138.78" y1="221.0" x2="138.78" y2="219.8" stroke="#b0b0b0" stroke-width="0.6"/>
<line x1="138.78" y1="134.0" x2="138.78" y2="135.2" stroke="#b0b0b0" stroke-width="0.6"/>
<line x1="149.70" y1="221.0" x2="149.70" y2="219.8" stroke="#b0b0b0" stroke-width="0.6"/>
<line x1="149.70" y1="134.0" x2="149.70" y2="135.2" stroke="#b0b0b0" stroke-width="0.6"/>
<line x1="160.62" y1="221.0" x2="160.62" y2="219.8" stroke="#b0b0b0" stroke-width="0.6"/>
<line x1="160.62" y1="134.0" x2="160.62" y2="135.2" stroke="#b0b0b0" stroke-width="0.6"/>
<line x1="171.55" y1="221.0" x2="171.55" y2="219.8" stroke="#b0b0b0" stroke-width="0.6"/>
<line x1="171.55" y1="134.0" x2="171.55" y2="135.2" stroke="#b0b0b0" stroke-width="0.6"/>
<line x1="182.47" y1="221.0" x2="182.47" y2="219.8" stroke="#b0b0b0" stroke-width="0.6"/>
<line x1="182.47" y1="134.0" x2="182.47" y2="135.2" stroke="#b0b0b0" stroke-width="0.6"/>
<line x1="193.40" y1="221.0" x2="193.40" y2="219.8" stroke="#b0b0b0" stroke-width="0.6"/>
<line x1="193.40" y1="134.0" x2="193.40" y2="135.2" stroke="#b0b0b0" stroke-width="0.6"/>
<line x1="18.6" y1="221.00" x2="19.8" y2="221.00" stroke="#b0b0b0" stroke-width="0.6"/>
<line x1="193.4" y1="221.00" x2="192.20000000000002" y2="221.00" stroke="#b0b0b0" stroke-width="0.6"/>
<line x1="18.6" y1="199.25" x2="19.8" y2="199.25" stroke="#b0b0b0" stroke-width="0.6"/>
<line x1="193.4" y1="199.25" x2="192.20000000000002" y2="199.25" stroke="#b0b0b0" stroke-width="0.6"/>
<line x1="18.6" y1="177.50" x2="19.8" y2="177.50" stroke="#b0b0b0" stroke-width="0.6"/>
<line x1="193.4" y1="177.50" x2="192.20000000000002" y2="177.50" stroke="#b0b0b0" stroke-width="0.6"/>
<line x1="18.6" y1="155.75" x2="19.8" y2="155.75" stroke="#b0b0b0" stroke-width="0.6"/>
<line x1="193.4" y1="155.75" x2="192.20000000000002" y2="155.75" stroke="#b0b0b0" stroke-width="0.6"/>
<line x1="18.6" y1="134.00" x2="19.8" y2="134.00" stroke="#b0b0b0" stroke-width="0.6"/>
<line x1="193.4" y1="134.00" x2="192.20000000000002" y2="134.00" stroke="#b0b0b0" stroke-width="0.6"/>
<text x="18.60" y="230.40" class="n" text-anchor="middle" font-size="6.6" fill="#222">0</text>
<text x="29.53" y="230.40" class="n" text-anchor="middle" font-size="6.6" fill="#222">1</text>
<text x="40.45" y="230.40" class="n" text-anchor="middle" font-size="6.6" fill="#222">2</text>
<text x="51.38" y="230.40" class="n" text-anchor="middle" font-size="6.6" fill="#222">3</text>
<text x="62.30" y="230.40" class="n" text-anchor="middle" font-size="6.6" fill="#222">4</text>
<text x="73.22" y="230.40" class="n" text-anchor="middle" font-size="6.6" fill="#222">5</text>
<text x="84.15" y="230.40" class="n" text-anchor="middle" font-size="6.6" fill="#222">6</text>
<text x="95.08" y="230.40" class="n" text-anchor="middle" font-size="6.6" fill="#222">7</text>
<text x="106.00" y="230.40" class="n" text-anchor="middle" font-size="6.6" fill="#222">8</text>
<text x="116.93" y="230.40" class="n" text-anchor="middle" font-size="6.6" fill="#222">9</text>
<text x="127.85" y="230.40" class="n" text-anchor="middle" font-size="6.6" fill="#222">10</text>
<text x="138.78" y="230.40" class="n" text-anchor="middle" font-size="6.6" fill="#222">11</text>
<text x="149.70" y="230.40" class="n" text-anchor="middle" font-size="6.6" fill="#222">12</text>
<text x="160.62" y="230.40" class="n" text-anchor="middle" font-size="6.6" fill="#222">13</text>
<text x="171.55" y="230.40" class="n" text-anchor="middle" font-size="6.6" fill="#222">14</text>
<text x="182.47" y="230.40" class="n" text-anchor="middle" font-size="6.6" fill="#222">15</text>
<text x="16.80" y="223.40" class="n" text-anchor="end" font-size="6.6" fill="#222">0</text>
<text x="16.80" y="201.65" class="n" text-anchor="end" font-size="6.6" fill="#222">1</text>
<text x="16.80" y="179.90" class="n" text-anchor="end" font-size="6.6" fill="#222">2</text>
<text x="16.80" y="158.15" class="n" text-anchor="end" font-size="6.6" fill="#222">3</text>
<text x="16.80" y="136.40" class="n" text-anchor="end" font-size="6.6" fill="#222">4</text>
<text x="106.00" y="239.40" class="lab" text-anchor="middle" font-size="7.7" fill="#2a2a2a">Years</text>
<text transform="translate(10.10,177.80) rotate(-90)" x="0" y="0" class="lab" text-anchor="middle" font-size="7.7" fill="#2a2a2a">Normalized Loss</text>
<text x="1.0" y="128.0" font-size="10.6" font-weight="bold" fill="#000">C</text>
<polyline points="29.53,179.68 40.45,172.93 51.38,170.54 62.30,168.58 73.22,166.84 84.15,165.97 95.08,167.28 106.00,168.80 116.93,166.19 127.85,168.58 138.78,167.28 149.70,167.06 160.62,166.84 171.55,167.71 182.47,166.62" fill="none" stroke="#3428dc" stroke-width="1.05" stroke-linejoin="round"/>
<path d="M29.53 177.53L31.68 179.68L29.53 181.83L27.38 179.68Z" fill="#1208a8"/>
<path d="M40.45 170.78L42.60 172.93L40.45 175.08L38.30 172.93Z" fill="#1208a8"/>
<path d="M51.38 168.39L53.53 170.54L51.38 172.69L49.23 170.54Z" fill="#1208a8"/>
<path d="M62.30 166.43L64.45 168.58L62.30 170.73L60.15 168.58Z" fill="#1208a8"/>
<path d="M73.22 164.69L75.38 166.84L73.22 168.99L71.07 166.84Z" fill="#1208a8"/>
<path d="M84.15 163.82L86.30 165.97L84.15 168.12L82.00 165.97Z" fill="#1208a8"/>
<path d="M95.08 165.13L97.23 167.28L95.08 169.43L92.93 167.28Z" fill="#1208a8"/>
<path d="M106.00 166.65L108.15 168.80L106.00 170.95L103.85 168.80Z" fill="#1208a8"/>
<path d="M116.93 164.04L119.08 166.19L116.93 168.34L114.78 166.19Z" fill="#1208a8"/>
<path d="M127.85 166.43L130.00 168.58L127.85 170.73L125.70 168.58Z" fill="#1208a8"/>
<path d="M138.78 165.13L140.93 167.28L138.78 169.43L136.62 167.28Z" fill="#1208a8"/>
<path d="M149.70 164.91L151.85 167.06L149.70 169.21L147.55 167.06Z" fill="#1208a8"/>
<path d="M160.62 164.69L162.78 166.84L160.62 168.99L158.47 166.84Z" fill="#1208a8"/>
<path d="M171.55 165.56L173.70 167.71L171.55 169.86L169.40 167.71Z" fill="#1208a8"/>
<path d="M182.47 164.47L184.62 166.62L182.47 168.78L180.32 166.62Z" fill="#1208a8"/>
<polyline points="84.15,198.16 95.08,184.68 106.00,181.20 116.93,178.37 127.85,175.32 138.78,173.37 149.70,172.72 160.62,172.72 171.55,173.37 182.47,175.76" fill="none" stroke="#d42a38" stroke-width="1.05" stroke-linejoin="round"/>
<path d="M84.15 196.01L86.30 198.16L84.15 200.31L82.00 198.16Z" fill="#bd1028"/>
<path d="M95.08 182.53L97.23 184.68L95.08 186.83L92.93 184.68Z" fill="#bd1028"/>
<path d="M106.00 179.05L108.15 181.20L106.00 183.35L103.85 181.20Z" fill="#bd1028"/>
<path d="M116.93 176.22L119.08 178.37L116.93 180.52L114.78 178.37Z" fill="#bd1028"/>
<path d="M127.85 173.17L130.00 175.32L127.85 177.47L125.70 175.32Z" fill="#bd1028"/>
<path d="M138.78 171.22L140.93 173.37L138.78 175.52L136.62 173.37Z" fill="#bd1028"/>
<path d="M149.70 170.56L151.85 172.72L149.70 174.87L147.55 172.72Z" fill="#bd1028"/>
<path d="M160.62 170.56L162.78 172.72L160.62 174.87L158.47 172.72Z" fill="#bd1028"/>
<path d="M171.55 171.22L173.70 173.37L171.55 175.52L169.40 173.37Z" fill="#bd1028"/>
<path d="M182.47 173.61L184.62 175.76L182.47 177.91L180.32 175.76Z" fill="#bd1028"/>
<polyline points="84.15,221.00 95.08,221.00 106.00,193.59 116.93,188.59 127.85,186.85 138.78,186.42 149.70,185.76 160.62,182.94 171.55,184.03 182.47,184.03" fill="none" stroke="#000000" stroke-width="1.05" stroke-linejoin="round"/>
<path d="M84.15 218.85L86.30 221.00L84.15 223.15L82.00 221.00Z" fill="#000000"/>
<path d="M95.08 218.85L97.23 221.00L95.08 223.15L92.93 221.00Z" fill="#000000"/>
<path d="M106.00 191.44L108.15 193.59L106.00 195.75L103.85 193.59Z" fill="#000000"/>
<path d="M116.93 186.44L119.08 188.59L116.93 190.74L114.78 188.59Z" fill="#000000"/>
<path d="M127.85 184.70L130.00 186.85L127.85 189.00L125.70 186.85Z" fill="#000000"/>
<path d="M138.78 184.27L140.93 186.42L138.78 188.57L136.62 186.42Z" fill="#000000"/>
<path d="M149.70 183.61L151.85 185.76L149.70 187.91L147.55 185.76Z" fill="#000000"/>
<path d="M160.62 180.79L162.78 182.94L160.62 185.09L158.47 182.94Z" fill="#000000"/>
<path d="M171.55 181.88L173.70 184.03L171.55 186.18L169.40 184.03Z" fill="#000000"/>
<path d="M182.47 181.88L184.62 184.03L182.47 186.18L180.32 184.03Z" fill="#000000"/>
<rect x="20.7" y="137.3" width="172.3" height="25.2" fill="#fff" stroke="#b0b0b0" stroke-width="0.7"/>
<line x1="22.2" y1="141.2" x2="32.7" y2="141.2" stroke="#3428dc" stroke-width="1.0"/>
<path d="M27.45 139.05L29.60 141.20L27.45 143.35L25.30 141.20Z" fill="#1208a8"/>
<text transform="translate(33.0,143.70) scale(0.92,1)" font-size="6.52" fill="#262626" class="t">No Evidence (1% exce. prob.)</text>
<line x1="22.2" y1="148.7" x2="32.7" y2="148.7" stroke="#d42a38" stroke-width="1.0"/>
<path d="M27.45 146.55L29.60 148.70L27.45 150.85L25.30 148.70Z" fill="#bd1028"/>
<text transform="translate(33.0,151.20) scale(0.92,1)" font-size="6.52" fill="#262626" class="t">Survival up to 5yrs (1% exce. prob.)</text>
<line x1="22.2" y1="156.2" x2="32.7" y2="156.2" stroke="#000000" stroke-width="1.0"/>
<path d="M27.45 154.05L29.60 156.20L27.45 158.35L25.30 156.20Z" fill="#000000"/>
<text transform="translate(33.0,158.70) scale(0.92,1)" font-size="6.52" fill="#262626" class="t">Survival up to 5yrs, <tspan font-style="italic">M</tspan><tspan font-size="5.4" dy="1.6">d</tspan><tspan dy="-1.6">=180kNm,</tspan><tspan font-style="italic">H</tspan><tspan font-size="5.4" dy="1.6">s</tspan><tspan dy="-1.6">=30kN (1% exce. prob.)</tspan></text>
<line x1="235.22" y1="134.0" x2="235.22" y2="221.0" stroke="#f5f5f5" stroke-width="0.6"/>
<line x1="246.14" y1="134.0" x2="246.14" y2="221.0" stroke="#f5f5f5" stroke-width="0.6"/>
<line x1="257.06" y1="134.0" x2="257.06" y2="221.0" stroke="#f5f5f5" stroke-width="0.6"/>
<line x1="267.98" y1="134.0" x2="267.98" y2="221.0" stroke="#f5f5f5" stroke-width="0.6"/>
<line x1="278.89" y1="134.0" x2="278.89" y2="221.0" stroke="#f5f5f5" stroke-width="0.6"/>
<line x1="289.81" y1="134.0" x2="289.81" y2="221.0" stroke="#f5f5f5" stroke-width="0.6"/>
<line x1="300.73" y1="134.0" x2="300.73" y2="221.0" stroke="#f5f5f5" stroke-width="0.6"/>
<line x1="311.65" y1="134.0" x2="311.65" y2="221.0" stroke="#f5f5f5" stroke-width="0.6"/>
<line x1="322.57" y1="134.0" x2="322.57" y2="221.0" stroke="#f5f5f5" stroke-width="0.6"/>
<line x1="333.49" y1="134.0" x2="333.49" y2="221.0" stroke="#f5f5f5" stroke-width="0.6"/>
<line x1="344.41" y1="134.0" x2="344.41" y2="221.0" stroke="#f5f5f5" stroke-width="0.6"/>
<line x1="355.32" y1="134.0" x2="355.32" y2="221.0" stroke="#f5f5f5" stroke-width="0.6"/>
<line x1="366.24" y1="134.0" x2="366.24" y2="221.0" stroke="#f5f5f5" stroke-width="0.6"/>
<line x1="377.16" y1="134.0" x2="377.16" y2="221.0" stroke="#f5f5f5" stroke-width="0.6"/>
<line x1="388.08" y1="134.0" x2="388.08" y2="221.0" stroke="#f5f5f5" stroke-width="0.6"/>
<line x1="224.3" y1="186.20" x2="399.0" y2="186.20" stroke="#f5f5f5" stroke-width="0.6"/>
<line x1="224.3" y1="151.40" x2="399.0" y2="151.40" stroke="#f5f5f5" stroke-width="0.6"/>
<rect x="224.3" y="134.0" width="174.70" height="87.00" fill="none" stroke="#b0b0b0" stroke-width="0.75"/>
<line x1="224.30" y1="221.0" x2="224.30" y2="219.8" stroke="#b0b0b0" stroke-width="0.6"/>
<line x1="224.30" y1="134.0" x2="224.30" y2="135.2" stroke="#b0b0b0" stroke-width="0.6"/>
<line x1="235.22" y1="221.0" x2="235.22" y2="219.8" stroke="#b0b0b0" stroke-width="0.6"/>
<line x1="235.22" y1="134.0" x2="235.22" y2="135.2" stroke="#b0b0b0" stroke-width="0.6"/>
<line x1="246.14" y1="221.0" x2="246.14" y2="219.8" stroke="#b0b0b0" stroke-width="0.6"/>
<line x1="246.14" y1="134.0" x2="246.14" y2="135.2" stroke="#b0b0b0" stroke-width="0.6"/>
<line x1="257.06" y1="221.0" x2="257.06" y2="219.8" stroke="#b0b0b0" stroke-width="0.6"/>
<line x1="257.06" y1="134.0" x2="257.06" y2="135.2" stroke="#b0b0b0" stroke-width="0.6"/>
<line x1="267.98" y1="221.0" x2="267.98" y2="219.8" stroke="#b0b0b0" stroke-width="0.6"/>
<line x1="267.98" y1="134.0" x2="267.98" y2="135.2" stroke="#b0b0b0" stroke-width="0.6"/>
<line x1="278.89" y1="221.0" x2="278.89" y2="219.8" stroke="#b0b0b0" stroke-width="0.6"/>
<line x1="278.89" y1="134.0" x2="278.89" y2="135.2" stroke="#b0b0b0" stroke-width="0.6"/>
<line x1="289.81" y1="221.0" x2="289.81" y2="219.8" stroke="#b0b0b0" stroke-width="0.6"/>
<line x1="289.81" y1="134.0" x2="289.81" y2="135.2" stroke="#b0b0b0" stroke-width="0.6"/>
<line x1="300.73" y1="221.0" x2="300.73" y2="219.8" stroke="#b0b0b0" stroke-width="0.6"/>
<line x1="300.73" y1="134.0" x2="300.73" y2="135.2" stroke="#b0b0b0" stroke-width="0.6"/>
<line x1="311.65" y1="221.0" x2="311.65" y2="219.8" stroke="#b0b0b0" stroke-width="0.6"/>
<line x1="311.65" y1="134.0" x2="311.65" y2="135.2" stroke="#b0b0b0" stroke-width="0.6"/>
<line x1="322.57" y1="221.0" x2="322.57" y2="219.8" stroke="#b0b0b0" stroke-width="0.6"/>
<line x1="322.57" y1="134.0" x2="322.57" y2="135.2" stroke="#b0b0b0" stroke-width="0.6"/>
<line x1="333.49" y1="221.0" x2="333.49" y2="219.8" stroke="#b0b0b0" stroke-width="0.6"/>
<line x1="333.49" y1="134.0" x2="333.49" y2="135.2" stroke="#b0b0b0" stroke-width="0.6"/>
<line x1="344.41" y1="221.0" x2="344.41" y2="219.8" stroke="#b0b0b0" stroke-width="0.6"/>
<line x1="344.41" y1="134.0" x2="344.41" y2="135.2" stroke="#b0b0b0" stroke-width="0.6"/>
<line x1="355.32" y1="221.0" x2="355.32" y2="219.8" stroke="#b0b0b0" stroke-width="0.6"/>
<line x1="355.32" y1="134.0" x2="355.32" y2="135.2" stroke="#b0b0b0" stroke-width="0.6"/>
<line x1="366.24" y1="221.0" x2="366.24" y2="219.8" stroke="#b0b0b0" stroke-width="0.6"/>
<line x1="366.24" y1="134.0" x2="366.24" y2="135.2" stroke="#b0b0b0" stroke-width="0.6"/>
<line x1="377.16" y1="221.0" x2="377.16" y2="219.8" stroke="#b0b0b0" stroke-width="0.6"/>
<line x1="377.16" y1="134.0" x2="377.16" y2="135.2" stroke="#b0b0b0" stroke-width="0.6"/>
<line x1="388.08" y1="221.0" x2="388.08" y2="219.8" stroke="#b0b0b0" stroke-width="0.6"/>
<line x1="388.08" y1="134.0" x2="388.08" y2="135.2" stroke="#b0b0b0" stroke-width="0.6"/>
<line x1="399.00" y1="221.0" x2="399.00" y2="219.8" stroke="#b0b0b0" stroke-width="0.6"/>
<line x1="399.00" y1="134.0" x2="399.00" y2="135.2" stroke="#b0b0b0" stroke-width="0.6"/>
<line x1="224.3" y1="221.00" x2="225.5" y2="221.00" stroke="#b0b0b0" stroke-width="0.6"/>
<line x1="399.0" y1="221.00" x2="397.8" y2="221.00" stroke="#b0b0b0" stroke-width="0.6"/>
<line x1="224.3" y1="186.20" x2="225.5" y2="186.20" stroke="#b0b0b0" stroke-width="0.6"/>
<line x1="399.0" y1="186.20" x2="397.8" y2="186.20" stroke="#b0b0b0" stroke-width="0.6"/>
<line x1="224.3" y1="151.40" x2="225.5" y2="151.40" stroke="#b0b0b0" stroke-width="0.6"/>
<line x1="399.0" y1="151.40" x2="397.8" y2="151.40" stroke="#b0b0b0" stroke-width="0.6"/>
<text x="224.30" y="230.40" class="n" text-anchor="middle" font-size="6.6" fill="#222">0</text>
<text x="235.22" y="230.40" class="n" text-anchor="middle" font-size="6.6" fill="#222">1</text>
<text x="246.14" y="230.40" class="n" text-anchor="middle" font-size="6.6" fill="#222">2</text>
<text x="257.06" y="230.40" class="n" text-anchor="middle" font-size="6.6" fill="#222">3</text>
<text x="267.98" y="230.40" class="n" text-anchor="middle" font-size="6.6" fill="#222">4</text>
<text x="278.89" y="230.40" class="n" text-anchor="middle" font-size="6.6" fill="#222">5</text>
<text x="289.81" y="230.40" class="n" text-anchor="middle" font-size="6.6" fill="#222">6</text>
<text x="300.73" y="230.40" class="n" text-anchor="middle" font-size="6.6" fill="#222">7</text>
<text x="311.65" y="230.40" class="n" text-anchor="middle" font-size="6.6" fill="#222">8</text>
<text x="322.57" y="230.40" class="n" text-anchor="middle" font-size="6.6" fill="#222">9</text>
<text x="333.49" y="230.40" class="n" text-anchor="middle" font-size="6.6" fill="#222">10</text>
<text x="344.41" y="230.40" class="n" text-anchor="middle" font-size="6.6" fill="#222">11</text>
<text x="355.32" y="230.40" class="n" text-anchor="middle" font-size="6.6" fill="#222">12</text>
<text x="366.24" y="230.40" class="n" text-anchor="middle" font-size="6.6" fill="#222">13</text>
<text x="377.16" y="230.40" class="n" text-anchor="middle" font-size="6.6" fill="#222">14</text>
<text x="388.08" y="230.40" class="n" text-anchor="middle" font-size="6.6" fill="#222">15</text>
<text x="222.50" y="223.40" class="n" text-anchor="end" font-size="6.6" fill="#222">0</text>
<text x="222.50" y="188.60" class="n" text-anchor="end" font-size="6.6" fill="#222">1</text>
<text x="222.50" y="153.80" class="n" text-anchor="end" font-size="6.6" fill="#222">2</text>
<text x="311.65" y="239.40" class="lab" text-anchor="middle" font-size="7.7" fill="#2a2a2a">Years</text>
<text transform="translate(215.80,177.80) rotate(-90)" x="0" y="0" class="lab" text-anchor="middle" font-size="7.7" fill="#2a2a2a">Normalized Loss</text>
<text x="205.5" y="128.0" font-size="10.6" font-weight="bold" fill="#000">D</text>
<polyline points="235.22,221.00 246.14,221.00 257.06,221.00 267.98,177.01 278.89,171.20 289.81,169.50 300.73,168.14 311.65,167.48 322.57,165.42 333.49,167.13 344.41,167.13 355.32,165.77 366.24,167.13 377.16,167.13 388.08,168.14" fill="none" stroke="#3428dc" stroke-width="1.05" stroke-linejoin="round"/>
<rect x="233.72" y="219.50" width="3.00" height="3.00" fill="#1208a8"/>
<rect x="244.64" y="219.50" width="3.00" height="3.00" fill="#1208a8"/>
<rect x="255.56" y="219.50" width="3.00" height="3.00" fill="#1208a8"/>
<rect x="266.48" y="175.51" width="3.00" height="3.00" fill="#1208a8"/>
<rect x="277.39" y="169.70" width="3.00" height="3.00" fill="#1208a8"/>
<rect x="288.31" y="168.00" width="3.00" height="3.00" fill="#1208a8"/>
<rect x="299.23" y="166.64" width="3.00" height="3.00" fill="#1208a8"/>
<rect x="310.15" y="165.98" width="3.00" height="3.00" fill="#1208a8"/>
<rect x="321.07" y="163.92" width="3.00" height="3.00" fill="#1208a8"/>
<rect x="331.99" y="165.63" width="3.00" height="3.00" fill="#1208a8"/>
<rect x="342.91" y="165.63" width="3.00" height="3.00" fill="#1208a8"/>
<rect x="353.82" y="164.27" width="3.00" height="3.00" fill="#1208a8"/>
<rect x="364.74" y="165.63" width="3.00" height="3.00" fill="#1208a8"/>
<rect x="375.66" y="165.63" width="3.00" height="3.00" fill="#1208a8"/>
<rect x="386.58" y="166.64" width="3.00" height="3.00" fill="#1208a8"/>
<polyline points="289.81,221.00 300.73,221.00 311.65,221.00 322.57,221.00 333.49,187.59 344.41,182.48 355.32,181.78 366.24,177.36 377.16,177.36 388.08,178.02" fill="none" stroke="#d42a38" stroke-width="1.05" stroke-linejoin="round"/>
<path d="M289.81 218.85L291.96 221.00L289.81 223.15L287.66 221.00Z" fill="#bd1028"/>
<path d="M300.73 218.85L302.88 221.00L300.73 223.15L298.58 221.00Z" fill="#bd1028"/>
<path d="M311.65 218.85L313.80 221.00L311.65 223.15L309.50 221.00Z" fill="#bd1028"/>
<path d="M322.57 218.85L324.72 221.00L322.57 223.15L320.42 221.00Z" fill="#bd1028"/>
<path d="M333.49 185.44L335.64 187.59L333.49 189.74L331.34 187.59Z" fill="#bd1028"/>
<path d="M344.41 180.33L346.56 182.48L344.41 184.63L342.26 182.48Z" fill="#bd1028"/>
<path d="M355.32 179.63L357.47 181.78L355.32 183.93L353.18 181.78Z" fill="#bd1028"/>
<path d="M366.24 175.21L368.39 177.36L366.24 179.51L364.09 177.36Z" fill="#bd1028"/>
<path d="M377.16 175.21L379.31 177.36L377.16 179.51L375.01 177.36Z" fill="#bd1028"/>
<path d="M388.08 175.87L390.23 178.02L388.08 180.17L385.93 178.02Z" fill="#bd1028"/>
<polyline points="289.81,221.00 300.73,221.00 311.65,221.00 322.57,221.00 333.49,221.00 344.41,221.00 355.32,221.00 366.24,221.00 377.16,221.00 388.08,221.00" fill="none" stroke="#000000" stroke-width="1.05" stroke-linejoin="round"/>
<circle cx="289.81" cy="221.00" r="1.2" fill="#000000"/>
<circle cx="300.73" cy="221.00" r="1.2" fill="#000000"/>
<circle cx="311.65" cy="221.00" r="1.2" fill="#000000"/>
<circle cx="322.57" cy="221.00" r="1.2" fill="#000000"/>
<circle cx="333.49" cy="221.00" r="1.2" fill="#000000"/>
<circle cx="344.41" cy="221.00" r="1.2" fill="#000000"/>
<circle cx="355.32" cy="221.00" r="1.2" fill="#000000"/>
<circle cx="366.24" cy="221.00" r="1.2" fill="#000000"/>
<circle cx="377.16" cy="221.00" r="1.2" fill="#000000"/>
<circle cx="388.08" cy="221.00" r="1.2" fill="#000000"/>
<rect x="226.6" y="136.2" width="171.0" height="27.0" fill="#fff" stroke="#b0b0b0" stroke-width="0.7"/>
<line x1="227.4" y1="141.2" x2="237.5" y2="141.2" stroke="#3428dc" stroke-width="1.0"/>
<rect x="230.95" y="139.70" width="3.00" height="3.00" fill="#1208a8"/>
<text transform="translate(238.4,143.70) scale(0.92,1)" font-size="6.52" fill="#262626" class="t">No Evidence (5% exce. prob.)</text>
<line x1="227.4" y1="148.8" x2="237.5" y2="148.8" stroke="#d42a38" stroke-width="1.0"/>
<path d="M232.45 146.65L234.60 148.80L232.45 150.95L230.30 148.80Z" fill="#bd1028"/>
<text transform="translate(238.4,151.30) scale(0.92,1)" font-size="6.52" fill="#262626" class="t">Survival up to 5yrs (5% exce. prob.)</text>
<line x1="227.4" y1="157.6" x2="237.5" y2="157.6" stroke="#000000" stroke-width="1.0"/>
<circle cx="232.45" cy="157.60" r="1.2" fill="#000000"/>
<text transform="translate(238.4,158.90) scale(0.92,1)" font-size="6.52" fill="#262626" class="t">Survival up to 5yrs, <tspan font-style="italic">M</tspan><tspan font-size="5.4" dy="1.6">d</tspan><tspan dy="-1.6">=180kNm,</tspan><tspan font-style="italic">H</tspan><tspan font-size="5.4" dy="1.6">s</tspan><tspan dy="-1.6">=30kN (5% exce. prob.)</tspan></text>
<line x1="31.11" y1="257.6" x2="31.11" y2="344.6" stroke="#f5f5f5" stroke-width="0.6"/>
<line x1="42.03" y1="257.6" x2="42.03" y2="344.6" stroke="#f5f5f5" stroke-width="0.6"/>
<line x1="52.94" y1="257.6" x2="52.94" y2="344.6" stroke="#f5f5f5" stroke-width="0.6"/>
<line x1="63.85" y1="257.6" x2="63.85" y2="344.6" stroke="#f5f5f5" stroke-width="0.6"/>
<line x1="74.76" y1="257.6" x2="74.76" y2="344.6" stroke="#f5f5f5" stroke-width="0.6"/>
<line x1="85.68" y1="257.6" x2="85.68" y2="344.6" stroke="#f5f5f5" stroke-width="0.6"/>
<line x1="96.59" y1="257.6" x2="96.59" y2="344.6" stroke="#f5f5f5" stroke-width="0.6"/>
<line x1="107.50" y1="257.6" x2="107.50" y2="344.6" stroke="#f5f5f5" stroke-width="0.6"/>
<line x1="118.41" y1="257.6" x2="118.41" y2="344.6" stroke="#f5f5f5" stroke-width="0.6"/>
<line x1="129.33" y1="257.6" x2="129.33" y2="344.6" stroke="#f5f5f5" stroke-width="0.6"/>
<line x1="140.24" y1="257.6" x2="140.24" y2="344.6" stroke="#f5f5f5" stroke-width="0.6"/>
<line x1="151.15" y1="257.6" x2="151.15" y2="344.6" stroke="#f5f5f5" stroke-width="0.6"/>
<line x1="162.06" y1="257.6" x2="162.06" y2="344.6" stroke="#f5f5f5" stroke-width="0.6"/>
<line x1="172.98" y1="257.6" x2="172.98" y2="344.6" stroke="#f5f5f5" stroke-width="0.6"/>
<line x1="183.89" y1="257.6" x2="183.89" y2="344.6" stroke="#f5f5f5" stroke-width="0.6"/>
<line x1="20.2" y1="327.20" x2="194.8" y2="327.20" stroke="#f5f5f5" stroke-width="0.6"/>
<line x1="20.2" y1="309.80" x2="194.8" y2="309.80" stroke="#f5f5f5" stroke-width="0.6"/>
<line x1="20.2" y1="292.40" x2="194.8" y2="292.40" stroke="#f5f5f5" stroke-width="0.6"/>
<line x1="20.2" y1="275.00" x2="194.8" y2="275.00" stroke="#f5f5f5" stroke-width="0.6"/>
<rect x="20.2" y="257.6" width="174.60" height="87.00" fill="none" stroke="#b0b0b0" stroke-width="0.75"/>
<line x1="20.20" y1="344.6" x2="20.20" y2="343.40000000000003" stroke="#b0b0b0" stroke-width="0.6"/>
<line x1="20.20" y1="257.6" x2="20.20" y2="258.8" stroke="#b0b0b0" stroke-width="0.6"/>
<line x1="31.11" y1="344.6" x2="31.11" y2="343.40000000000003" stroke="#b0b0b0" stroke-width="0.6"/>
<line x1="31.11" y1="257.6" x2="31.11" y2="258.8" stroke="#b0b0b0" stroke-width="0.6"/>
<line x1="42.03" y1="344.6" x2="42.03" y2="343.40000000000003" stroke="#b0b0b0" stroke-width="0.6"/>
<line x1="42.03" y1="257.6" x2="42.03" y2="258.8" stroke="#b0b0b0" stroke-width="0.6"/>
<line x1="52.94" y1="344.6" x2="52.94" y2="343.40000000000003" stroke="#b0b0b0" stroke-width="0.6"/>
<line x1="52.94" y1="257.6" x2="52.94" y2="258.8" stroke="#b0b0b0" stroke-width="0.6"/>
<line x1="63.85" y1="344.6" x2="63.85" y2="343.40000000000003" stroke="#b0b0b0" stroke-width="0.6"/>
<line x1="63.85" y1="257.6" x2="63.85" y2="258.8" stroke="#b0b0b0" stroke-width="0.6"/>
<line x1="74.76" y1="344.6" x2="74.76" y2="343.40000000000003" stroke="#b0b0b0" stroke-width="0.6"/>
<line x1="74.76" y1="257.6" x2="74.76" y2="258.8" stroke="#b0b0b0" stroke-width="0.6"/>
<line x1="85.68" y1="344.6" x2="85.68" y2="343.40000000000003" stroke="#b0b0b0" stroke-width="0.6"/>
<line x1="85.68" y1="257.6" x2="85.68" y2="258.8" stroke="#b0b0b0" stroke-width="0.6"/>
<line x1="96.59" y1="344.6" x2="96.59" y2="343.40000000000003" stroke="#b0b0b0" stroke-width="0.6"/>
<line x1="96.59" y1="257.6" x2="96.59" y2="258.8" stroke="#b0b0b0" stroke-width="0.6"/>
<line x1="107.50" y1="344.6" x2="107.50" y2="343.40000000000003" stroke="#b0b0b0" stroke-width="0.6"/>
<line x1="107.50" y1="257.6" x2="107.50" y2="258.8" stroke="#b0b0b0" stroke-width="0.6"/>
<line x1="118.41" y1="344.6" x2="118.41" y2="343.40000000000003" stroke="#b0b0b0" stroke-width="0.6"/>
<line x1="118.41" y1="257.6" x2="118.41" y2="258.8" stroke="#b0b0b0" stroke-width="0.6"/>
<line x1="129.33" y1="344.6" x2="129.33" y2="343.40000000000003" stroke="#b0b0b0" stroke-width="0.6"/>
<line x1="129.33" y1="257.6" x2="129.33" y2="258.8" stroke="#b0b0b0" stroke-width="0.6"/>
<line x1="140.24" y1="344.6" x2="140.24" y2="343.40000000000003" stroke="#b0b0b0" stroke-width="0.6"/>
<line x1="140.24" y1="257.6" x2="140.24" y2="258.8" stroke="#b0b0b0" stroke-width="0.6"/>
<line x1="151.15" y1="344.6" x2="151.15" y2="343.40000000000003" stroke="#b0b0b0" stroke-width="0.6"/>
<line x1="151.15" y1="257.6" x2="151.15" y2="258.8" stroke="#b0b0b0" stroke-width="0.6"/>
<line x1="162.06" y1="344.6" x2="162.06" y2="343.40000000000003" stroke="#b0b0b0" stroke-width="0.6"/>
<line x1="162.06" y1="257.6" x2="162.06" y2="258.8" stroke="#b0b0b0" stroke-width="0.6"/>
<line x1="172.98" y1="344.6" x2="172.98" y2="343.40000000000003" stroke="#b0b0b0" stroke-width="0.6"/>
<line x1="172.98" y1="257.6" x2="172.98" y2="258.8" stroke="#b0b0b0" stroke-width="0.6"/>
<line x1="183.89" y1="344.6" x2="183.89" y2="343.40000000000003" stroke="#b0b0b0" stroke-width="0.6"/>
<line x1="183.89" y1="257.6" x2="183.89" y2="258.8" stroke="#b0b0b0" stroke-width="0.6"/>
<line x1="194.80" y1="344.6" x2="194.80" y2="343.40000000000003" stroke="#b0b0b0" stroke-width="0.6"/>
<line x1="194.80" y1="257.6" x2="194.80" y2="258.8" stroke="#b0b0b0" stroke-width="0.6"/>
<line x1="20.2" y1="344.60" x2="21.4" y2="344.60" stroke="#b0b0b0" stroke-width="0.6"/>
<line x1="194.8" y1="344.60" x2="193.60000000000002" y2="344.60" stroke="#b0b0b0" stroke-width="0.6"/>
<line x1="20.2" y1="327.20" x2="21.4" y2="327.20" stroke="#b0b0b0" stroke-width="0.6"/>
<line x1="194.8" y1="327.20" x2="193.60000000000002" y2="327.20" stroke="#b0b0b0" stroke-width="0.6"/>
<line x1="20.2" y1="309.80" x2="21.4" y2="309.80" stroke="#b0b0b0" stroke-width="0.6"/>
<line x1="194.8" y1="309.80" x2="193.60000000000002" y2="309.80" stroke="#b0b0b0" stroke-width="0.6"/>
<line x1="20.2" y1="292.40" x2="21.4" y2="292.40" stroke="#b0b0b0" stroke-width="0.6"/>
<line x1="194.8" y1="292.40" x2="193.60000000000002" y2="292.40" stroke="#b0b0b0" stroke-width="0.6"/>
<line x1="20.2" y1="275.00" x2="21.4" y2="275.00" stroke="#b0b0b0" stroke-width="0.6"/>
<line x1="194.8" y1="275.00" x2="193.60000000000002" y2="275.00" stroke="#b0b0b0" stroke-width="0.6"/>
<line x1="20.2" y1="257.60" x2="21.4" y2="257.60" stroke="#b0b0b0" stroke-width="0.6"/>
<line x1="194.8" y1="257.60" x2="193.60000000000002" y2="257.60" stroke="#b0b0b0" stroke-width="0.6"/>
<text x="20.20" y="354.00" class="n" text-anchor="middle" font-size="6.6" fill="#222">0</text>
<text x="31.11" y="354.00" class="n" text-anchor="middle" font-size="6.6" fill="#222">1</text>
<text x="42.03" y="354.00" class="n" text-anchor="middle" font-size="6.6" fill="#222">2</text>
<text x="52.94" y="354.00" class="n" text-anchor="middle" font-size="6.6" fill="#222">3</text>
<text x="63.85" y="354.00" class="n" text-anchor="middle" font-size="6.6" fill="#222">4</text>
<text x="74.76" y="354.00" class="n" text-anchor="middle" font-size="6.6" fill="#222">5</text>
<text x="85.68" y="354.00" class="n" text-anchor="middle" font-size="6.6" fill="#222">6</text>
<text x="96.59" y="354.00" class="n" text-anchor="middle" font-size="6.6" fill="#222">7</text>
<text x="107.50" y="354.00" class="n" text-anchor="middle" font-size="6.6" fill="#222">8</text>
<text x="118.41" y="354.00" class="n" text-anchor="middle" font-size="6.6" fill="#222">9</text>
<text x="129.33" y="354.00" class="n" text-anchor="middle" font-size="6.6" fill="#222">10</text>
<text x="140.24" y="354.00" class="n" text-anchor="middle" font-size="6.6" fill="#222">11</text>
<text x="151.15" y="354.00" class="n" text-anchor="middle" font-size="6.6" fill="#222">12</text>
<text x="162.06" y="354.00" class="n" text-anchor="middle" font-size="6.6" fill="#222">13</text>
<text x="172.98" y="354.00" class="n" text-anchor="middle" font-size="6.6" fill="#222">14</text>
<text x="183.89" y="354.00" class="n" text-anchor="middle" font-size="6.6" fill="#222">15</text>
<text x="18.40" y="347.00" class="n" text-anchor="end" font-size="6.6" fill="#222">0</text>
<text x="18.40" y="329.60" class="n" text-anchor="end" font-size="6.6" fill="#222">2</text>
<text x="18.40" y="312.20" class="n" text-anchor="end" font-size="6.6" fill="#222">4</text>
<text x="18.40" y="294.80" class="n" text-anchor="end" font-size="6.6" fill="#222">6</text>
<text x="18.40" y="277.40" class="n" text-anchor="end" font-size="6.6" fill="#222">8</text>
<text x="18.40" y="260.00" class="n" text-anchor="end" font-size="6.6" fill="#222">10</text>
<text x="107.50" y="363.00" class="lab" text-anchor="middle" font-size="7.7" fill="#2a2a2a">Years</text>
<text transform="translate(11.70,301.40) rotate(-90)" x="0" y="0" class="lab" text-anchor="middle" font-size="7.7" fill="#2a2a2a">Normalized Loss</text>
<text x="1.0" y="249.6" font-size="10.6" font-weight="bold" fill="#000">E</text>
<polyline points="31.11,327.84 42.03,324.44 52.94,320.61 63.85,317.73 74.76,315.00 85.68,312.71 96.59,309.31 107.50,307.53 118.41,304.63 129.33,302.34 140.24,300.13 151.15,298.09 162.06,295.11 172.98,292.39 183.89,290.61" fill="none" stroke="#3428dc" stroke-width="1.05" stroke-linejoin="round"/>
<path d="M31.11 325.69L33.26 327.84L31.11 329.99L28.96 327.84Z" fill="#1208a8"/>
<path d="M42.03 322.29L44.18 324.44L42.03 326.59L39.88 324.44Z" fill="#1208a8"/>
<path d="M52.94 318.46L55.09 320.61L52.94 322.76L50.79 320.61Z" fill="#1208a8"/>
<path d="M63.85 315.58L66.00 317.73L63.85 319.88L61.70 317.73Z" fill="#1208a8"/>
<path d="M74.76 312.85L76.91 315.00L74.76 317.15L72.61 315.00Z" fill="#1208a8"/>
<path d="M85.68 310.56L87.83 312.71L85.68 314.86L83.53 312.71Z" fill="#1208a8"/>
<path d="M96.59 307.16L98.74 309.31L96.59 311.46L94.44 309.31Z" fill="#1208a8"/>
<path d="M107.50 305.38L109.65 307.53L107.50 309.68L105.35 307.53Z" fill="#1208a8"/>
<path d="M118.41 302.48L120.56 304.63L118.41 306.78L116.26 304.63Z" fill="#1208a8"/>
<path d="M129.33 300.19L131.48 302.34L129.33 304.49L127.18 302.34Z" fill="#1208a8"/>
<path d="M140.24 297.98L142.39 300.13L140.24 302.28L138.09 300.13Z" fill="#1208a8"/>
<path d="M151.15 295.94L153.30 298.09L151.15 300.24L149.00 298.09Z" fill="#1208a8"/>
<path d="M162.06 292.96L164.21 295.11L162.06 297.26L159.91 295.11Z" fill="#1208a8"/>
<path d="M172.98 290.24L175.13 292.39L172.98 294.54L170.83 292.39Z" fill="#1208a8"/>
<path d="M183.89 288.46L186.04 290.61L183.89 292.76L181.74 290.61Z" fill="#1208a8"/>
<polyline points="85.68,335.66 96.59,329.63 107.50,326.90 118.41,325.46 129.33,324.44 140.24,322.23 151.15,321.04 162.06,319.26 172.98,317.73 183.89,316.53" fill="none" stroke="#d42a38" stroke-width="1.05" stroke-linejoin="round"/>
<path d="M85.68 333.51L87.83 335.66L85.68 337.81L83.53 335.66Z" fill="#bd1028"/>
<path d="M96.59 327.48L98.74 329.63L96.59 331.78L94.44 329.63Z" fill="#bd1028"/>
<path d="M107.50 324.75L109.65 326.90L107.50 329.05L105.35 326.90Z" fill="#bd1028"/>
<path d="M118.41 323.31L120.56 325.46L118.41 327.61L116.26 325.46Z" fill="#bd1028"/>
<path d="M129.33 322.29L131.48 324.44L129.33 326.59L127.18 324.44Z" fill="#bd1028"/>
<path d="M140.24 320.08L142.39 322.23L140.24 324.38L138.09 322.23Z" fill="#bd1028"/>
<path d="M151.15 318.89L153.30 321.04L151.15 323.19L149.00 321.04Z" fill="#bd1028"/>
<path d="M162.06 317.11L164.21 319.26L162.06 321.41L159.91 319.26Z" fill="#bd1028"/>
<path d="M172.98 315.58L175.13 317.73L172.98 319.88L170.83 317.73Z" fill="#bd1028"/>
<path d="M183.89 314.38L186.04 316.53L183.89 318.68L181.74 316.53Z" fill="#bd1028"/>
<polyline points="85.68,344.60 96.59,344.60 107.50,332.68 118.41,331.24 129.33,330.05 140.24,328.95 151.15,327.84 162.06,327.33 172.98,326.74 183.89,326.74" fill="none" stroke="#000000" stroke-width="1.05" stroke-linejoin="round"/>
<path d="M85.68 342.45L87.83 344.60L85.68 346.75L83.53 344.60Z" fill="#000000"/>
<path d="M96.59 342.45L98.74 344.60L96.59 346.75L94.44 344.60Z" fill="#000000"/>
<path d="M107.50 330.53L109.65 332.68L107.50 334.83L105.35 332.68Z" fill="#000000"/>
<path d="M118.41 329.09L120.56 331.24L118.41 333.39L116.26 331.24Z" fill="#000000"/>
<path d="M129.33 327.90L131.48 330.05L129.33 332.20L127.18 330.05Z" fill="#000000"/>
<path d="M140.24 326.80L142.39 328.95L140.24 331.10L138.09 328.95Z" fill="#000000"/>
<path d="M151.15 325.69L153.30 327.84L151.15 329.99L149.00 327.84Z" fill="#000000"/>
<path d="M162.06 325.18L164.21 327.33L162.06 329.48L159.91 327.33Z" fill="#000000"/>
<path d="M172.98 324.59L175.13 326.74L172.98 328.89L170.83 326.74Z" fill="#000000"/>
<path d="M183.89 324.59L186.04 326.74L183.89 328.89L181.74 326.74Z" fill="#000000"/>
<rect x="22.2" y="260.4" width="171.5" height="27.0" fill="#fff" stroke="#b0b0b0" stroke-width="0.7"/>
<line x1="23.4" y1="265.0" x2="33.9" y2="265.0" stroke="#3428dc" stroke-width="1.0"/>
<path d="M28.65 262.85L30.80 265.00L28.65 267.15L26.50 265.00Z" fill="#1208a8"/>
<text transform="translate(34.6,267.50) scale(0.92,1)" font-size="6.52" fill="#262626" class="t">No Evidence (1% exce. prob.)</text>
<line x1="23.4" y1="272.7" x2="33.9" y2="272.7" stroke="#d42a38" stroke-width="1.0"/>
<path d="M28.65 270.55L30.80 272.70L28.65 274.85L26.50 272.70Z" fill="#bd1028"/>
<text transform="translate(34.6,275.20) scale(0.92,1)" font-size="6.52" fill="#262626" class="t">Survival up to 5yrs (1% exce. prob.)</text>
<line x1="23.4" y1="280.4" x2="33.9" y2="280.4" stroke="#000000" stroke-width="1.0"/>
<path d="M28.65 278.25L30.80 280.40L28.65 282.55L26.50 280.40Z" fill="#000000"/>
<text transform="translate(34.6,282.90) scale(0.92,1)" font-size="6.52" fill="#262626" class="t">Survival up to 5yrs, <tspan font-style="italic">M</tspan><tspan font-size="5.4" dy="1.6">d</tspan><tspan dy="-1.6">=180kNm,</tspan><tspan font-style="italic">H</tspan><tspan font-size="5.4" dy="1.6">s</tspan><tspan dy="-1.6">=30kN (1% exce. prob.)</tspan></text>
<line x1="234.46" y1="257.6" x2="234.46" y2="344.8" stroke="#f5f5f5" stroke-width="0.6"/>
<line x1="245.43" y1="257.6" x2="245.43" y2="344.8" stroke="#f5f5f5" stroke-width="0.6"/>
<line x1="256.39" y1="257.6" x2="256.39" y2="344.8" stroke="#f5f5f5" stroke-width="0.6"/>
<line x1="267.35" y1="257.6" x2="267.35" y2="344.8" stroke="#f5f5f5" stroke-width="0.6"/>
<line x1="278.31" y1="257.6" x2="278.31" y2="344.8" stroke="#f5f5f5" stroke-width="0.6"/>
<line x1="289.27" y1="257.6" x2="289.27" y2="344.8" stroke="#f5f5f5" stroke-width="0.6"/>
<line x1="300.24" y1="257.6" x2="300.24" y2="344.8" stroke="#f5f5f5" stroke-width="0.6"/>
<line x1="311.20" y1="257.6" x2="311.20" y2="344.8" stroke="#f5f5f5" stroke-width="0.6"/>
<line x1="322.16" y1="257.6" x2="322.16" y2="344.8" stroke="#f5f5f5" stroke-width="0.6"/>
<line x1="333.12" y1="257.6" x2="333.12" y2="344.8" stroke="#f5f5f5" stroke-width="0.6"/>
<line x1="344.09" y1="257.6" x2="344.09" y2="344.8" stroke="#f5f5f5" stroke-width="0.6"/>
<line x1="355.05" y1="257.6" x2="355.05" y2="344.8" stroke="#f5f5f5" stroke-width="0.6"/>
<line x1="366.01" y1="257.6" x2="366.01" y2="344.8" stroke="#f5f5f5" stroke-width="0.6"/>
<line x1="376.97" y1="257.6" x2="376.97" y2="344.8" stroke="#f5f5f5" stroke-width="0.6"/>
<line x1="387.94" y1="257.6" x2="387.94" y2="344.8" stroke="#f5f5f5" stroke-width="0.6"/>
<line x1="223.5" y1="310.00" x2="398.9" y2="310.00" stroke="#f5f5f5" stroke-width="0.6"/>
<line x1="223.5" y1="275.20" x2="398.9" y2="275.20" stroke="#f5f5f5" stroke-width="0.6"/>
<rect x="223.5" y="257.6" width="175.40" height="87.20" fill="none" stroke="#b0b0b0" stroke-width="0.75"/>
<line x1="223.50" y1="344.8" x2="223.50" y2="343.6" stroke="#b0b0b0" stroke-width="0.6"/>
<line x1="223.50" y1="257.6" x2="223.50" y2="258.8" stroke="#b0b0b0" stroke-width="0.6"/>
<line x1="234.46" y1="344.8" x2="234.46" y2="343.6" stroke="#b0b0b0" stroke-width="0.6"/>
<line x1="234.46" y1="257.6" x2="234.46" y2="258.8" stroke="#b0b0b0" stroke-width="0.6"/>
<line x1="245.43" y1="344.8" x2="245.43" y2="343.6" stroke="#b0b0b0" stroke-width="0.6"/>
<line x1="245.43" y1="257.6" x2="245.43" y2="258.8" stroke="#b0b0b0" stroke-width="0.6"/>
<line x1="256.39" y1="344.8" x2="256.39" y2="343.6" stroke="#b0b0b0" stroke-width="0.6"/>
<line x1="256.39" y1="257.6" x2="256.39" y2="258.8" stroke="#b0b0b0" stroke-width="0.6"/>
<line x1="267.35" y1="344.8" x2="267.35" y2="343.6" stroke="#b0b0b0" stroke-width="0.6"/>
<line x1="267.35" y1="257.6" x2="267.35" y2="258.8" stroke="#b0b0b0" stroke-width="0.6"/>
<line x1="278.31" y1="344.8" x2="278.31" y2="343.6" stroke="#b0b0b0" stroke-width="0.6"/>
<line x1="278.31" y1="257.6" x2="278.31" y2="258.8" stroke="#b0b0b0" stroke-width="0.6"/>
<line x1="289.27" y1="344.8" x2="289.27" y2="343.6" stroke="#b0b0b0" stroke-width="0.6"/>
<line x1="289.27" y1="257.6" x2="289.27" y2="258.8" stroke="#b0b0b0" stroke-width="0.6"/>
<line x1="300.24" y1="344.8" x2="300.24" y2="343.6" stroke="#b0b0b0" stroke-width="0.6"/>
<line x1="300.24" y1="257.6" x2="300.24" y2="258.8" stroke="#b0b0b0" stroke-width="0.6"/>
<line x1="311.20" y1="344.8" x2="311.20" y2="343.6" stroke="#b0b0b0" stroke-width="0.6"/>
<line x1="311.20" y1="257.6" x2="311.20" y2="258.8" stroke="#b0b0b0" stroke-width="0.6"/>
<line x1="322.16" y1="344.8" x2="322.16" y2="343.6" stroke="#b0b0b0" stroke-width="0.6"/>
<line x1="322.16" y1="257.6" x2="322.16" y2="258.8" stroke="#b0b0b0" stroke-width="0.6"/>
<line x1="333.12" y1="344.8" x2="333.12" y2="343.6" stroke="#b0b0b0" stroke-width="0.6"/>
<line x1="333.12" y1="257.6" x2="333.12" y2="258.8" stroke="#b0b0b0" stroke-width="0.6"/>
<line x1="344.09" y1="344.8" x2="344.09" y2="343.6" stroke="#b0b0b0" stroke-width="0.6"/>
<line x1="344.09" y1="257.6" x2="344.09" y2="258.8" stroke="#b0b0b0" stroke-width="0.6"/>
<line x1="355.05" y1="344.8" x2="355.05" y2="343.6" stroke="#b0b0b0" stroke-width="0.6"/>
<line x1="355.05" y1="257.6" x2="355.05" y2="258.8" stroke="#b0b0b0" stroke-width="0.6"/>
<line x1="366.01" y1="344.8" x2="366.01" y2="343.6" stroke="#b0b0b0" stroke-width="0.6"/>
<line x1="366.01" y1="257.6" x2="366.01" y2="258.8" stroke="#b0b0b0" stroke-width="0.6"/>
<line x1="376.97" y1="344.8" x2="376.97" y2="343.6" stroke="#b0b0b0" stroke-width="0.6"/>
<line x1="376.97" y1="257.6" x2="376.97" y2="258.8" stroke="#b0b0b0" stroke-width="0.6"/>
<line x1="387.94" y1="344.8" x2="387.94" y2="343.6" stroke="#b0b0b0" stroke-width="0.6"/>
<line x1="387.94" y1="257.6" x2="387.94" y2="258.8" stroke="#b0b0b0" stroke-width="0.6"/>
<line x1="398.90" y1="344.8" x2="398.90" y2="343.6" stroke="#b0b0b0" stroke-width="0.6"/>
<line x1="398.90" y1="257.6" x2="398.90" y2="258.8" stroke="#b0b0b0" stroke-width="0.6"/>
<line x1="223.5" y1="344.80" x2="224.7" y2="344.80" stroke="#b0b0b0" stroke-width="0.6"/>
<line x1="398.9" y1="344.80" x2="397.7" y2="344.80" stroke="#b0b0b0" stroke-width="0.6"/>
<line x1="223.5" y1="310.00" x2="224.7" y2="310.00" stroke="#b0b0b0" stroke-width="0.6"/>
<line x1="398.9" y1="310.00" x2="397.7" y2="310.00" stroke="#b0b0b0" stroke-width="0.6"/>
<line x1="223.5" y1="275.20" x2="224.7" y2="275.20" stroke="#b0b0b0" stroke-width="0.6"/>
<line x1="398.9" y1="275.20" x2="397.7" y2="275.20" stroke="#b0b0b0" stroke-width="0.6"/>
<text x="223.50" y="354.20" class="n" text-anchor="middle" font-size="6.6" fill="#222">0</text>
<text x="234.46" y="354.20" class="n" text-anchor="middle" font-size="6.6" fill="#222">1</text>
<text x="245.43" y="354.20" class="n" text-anchor="middle" font-size="6.6" fill="#222">2</text>
<text x="256.39" y="354.20" class="n" text-anchor="middle" font-size="6.6" fill="#222">3</text>
<text x="267.35" y="354.20" class="n" text-anchor="middle" font-size="6.6" fill="#222">4</text>
<text x="278.31" y="354.20" class="n" text-anchor="middle" font-size="6.6" fill="#222">5</text>
<text x="289.27" y="354.20" class="n" text-anchor="middle" font-size="6.6" fill="#222">6</text>
<text x="300.24" y="354.20" class="n" text-anchor="middle" font-size="6.6" fill="#222">7</text>
<text x="311.20" y="354.20" class="n" text-anchor="middle" font-size="6.6" fill="#222">8</text>
<text x="322.16" y="354.20" class="n" text-anchor="middle" font-size="6.6" fill="#222">9</text>
<text x="333.12" y="354.20" class="n" text-anchor="middle" font-size="6.6" fill="#222">10</text>
<text x="344.09" y="354.20" class="n" text-anchor="middle" font-size="6.6" fill="#222">11</text>
<text x="355.05" y="354.20" class="n" text-anchor="middle" font-size="6.6" fill="#222">12</text>
<text x="366.01" y="354.20" class="n" text-anchor="middle" font-size="6.6" fill="#222">13</text>
<text x="376.97" y="354.20" class="n" text-anchor="middle" font-size="6.6" fill="#222">14</text>
<text x="387.94" y="354.20" class="n" text-anchor="middle" font-size="6.6" fill="#222">15</text>
<text x="221.70" y="347.20" class="n" text-anchor="end" font-size="6.6" fill="#222">0</text>
<text x="221.70" y="312.40" class="n" text-anchor="end" font-size="6.6" fill="#222">2</text>
<text x="221.70" y="277.60" class="n" text-anchor="end" font-size="6.6" fill="#222">4</text>
<text x="311.20" y="363.20" class="lab" text-anchor="middle" font-size="7.7" fill="#2a2a2a">Years</text>
<text transform="translate(215.00,301.50) rotate(-90)" x="0" y="0" class="lab" text-anchor="middle" font-size="7.7" fill="#2a2a2a">Normalized Loss</text>
<text x="205.5" y="249.8" font-size="10.6" font-weight="bold" fill="#000">F</text>
<polyline points="234.46,344.80 245.43,344.80 256.39,344.80 267.35,320.61 278.31,317.13 289.27,314.35 300.24,312.44 311.20,310.52 322.16,308.26 333.12,306.87 344.09,305.30 355.05,303.04 366.01,301.82 376.97,300.78 387.94,299.04" fill="none" stroke="#3428dc" stroke-width="1.05" stroke-linejoin="round"/>
<rect x="232.96" y="343.30" width="3.00" height="3.00" fill="#1208a8"/>
<rect x="243.93" y="343.30" width="3.00" height="3.00" fill="#1208a8"/>
<rect x="254.89" y="343.30" width="3.00" height="3.00" fill="#1208a8"/>
<rect x="265.85" y="319.11" width="3.00" height="3.00" fill="#1208a8"/>
<rect x="276.81" y="315.63" width="3.00" height="3.00" fill="#1208a8"/>
<rect x="287.77" y="312.85" width="3.00" height="3.00" fill="#1208a8"/>
<rect x="298.74" y="310.94" width="3.00" height="3.00" fill="#1208a8"/>
<rect x="309.70" y="309.02" width="3.00" height="3.00" fill="#1208a8"/>
<rect x="320.66" y="306.76" width="3.00" height="3.00" fill="#1208a8"/>
<rect x="331.62" y="305.37" width="3.00" height="3.00" fill="#1208a8"/>
<rect x="342.59" y="303.80" width="3.00" height="3.00" fill="#1208a8"/>
<rect x="353.55" y="301.54" width="3.00" height="3.00" fill="#1208a8"/>
<rect x="364.51" y="300.32" width="3.00" height="3.00" fill="#1208a8"/>
<rect x="375.47" y="299.28" width="3.00" height="3.00" fill="#1208a8"/>
<rect x="386.44" y="297.54" width="3.00" height="3.00" fill="#1208a8"/>
<polyline points="289.27,344.80 300.24,344.80 311.20,344.80 322.16,344.80 333.12,326.18 344.09,322.88 355.05,320.96 366.01,319.57 376.97,318.18 387.94,316.09" fill="none" stroke="#d42a38" stroke-width="1.05" stroke-linejoin="round"/>
<path d="M289.27 342.65L291.42 344.80L289.27 346.95L287.12 344.80Z" fill="#bd1028"/>
<path d="M300.24 342.65L302.39 344.80L300.24 346.95L298.09 344.80Z" fill="#bd1028"/>
<path d="M311.20 342.65L313.35 344.80L311.20 346.95L309.05 344.80Z" fill="#bd1028"/>
<path d="M322.16 342.65L324.31 344.80L322.16 346.95L320.01 344.80Z" fill="#bd1028"/>
<path d="M333.12 324.03L335.27 326.18L333.12 328.33L330.98 326.18Z" fill="#bd1028"/>
<path d="M344.09 320.73L346.24 322.88L344.09 325.03L341.94 322.88Z" fill="#bd1028"/>
<path d="M355.05 318.81L357.20 320.96L355.05 323.11L352.90 320.96Z" fill="#bd1028"/>
<path d="M366.01 317.42L368.16 319.57L366.01 321.72L363.86 319.57Z" fill="#bd1028"/>
<path d="M376.97 316.03L379.12 318.18L376.97 320.33L374.82 318.18Z" fill="#bd1028"/>
<path d="M387.94 313.94L390.09 316.09L387.94 318.24L385.79 316.09Z" fill="#bd1028"/>
<polyline points="289.27,344.80 300.24,344.80 311.20,344.80 322.16,344.80 333.12,344.80 344.09,344.80 355.05,344.80 366.01,344.80 376.97,344.80 387.94,344.80" fill="none" stroke="#000000" stroke-width="1.05" stroke-linejoin="round"/>
<circle cx="289.27" cy="344.80" r="1.2" fill="#000000"/>
<circle cx="300.24" cy="344.80" r="1.2" fill="#000000"/>
<circle cx="311.20" cy="344.80" r="1.2" fill="#000000"/>
<circle cx="322.16" cy="344.80" r="1.2" fill="#000000"/>
<circle cx="333.12" cy="344.80" r="1.2" fill="#000000"/>
<circle cx="344.09" cy="344.80" r="1.2" fill="#000000"/>
<circle cx="355.05" cy="344.80" r="1.2" fill="#000000"/>
<circle cx="366.01" cy="344.80" r="1.2" fill="#000000"/>
<circle cx="376.97" cy="344.80" r="1.2" fill="#000000"/>
<circle cx="387.94" cy="344.80" r="1.2" fill="#000000"/>
<rect x="226.0" y="260.4" width="172.0" height="26.8" fill="#fff" stroke="#b0b0b0" stroke-width="0.7"/>
<line x1="226.8" y1="265.0" x2="237.3" y2="265.0" stroke="#3428dc" stroke-width="1.0"/>
<rect x="230.55" y="263.50" width="3.00" height="3.00" fill="#1208a8"/>
<text transform="translate(237.8,267.50) scale(0.92,1)" font-size="6.52" fill="#262626" class="t">No Evidence (5% exce. prob.)</text>
<line x1="226.8" y1="272.7" x2="237.3" y2="272.7" stroke="#d42a38" stroke-width="1.0"/>
<path d="M232.05 270.55L234.20 272.70L232.05 274.85L229.90 272.70Z" fill="#bd1028"/>
<text transform="translate(237.8,275.20) scale(0.92,1)" font-size="6.52" fill="#262626" class="t">Survival up to 5yrs (5% exce. prob.)</text>
<line x1="226.8" y1="281.7" x2="237.3" y2="281.7" stroke="#000000" stroke-width="1.0"/>
<circle cx="232.05" cy="281.70" r="1.2" fill="#000000"/>
<text transform="translate(237.8,282.90) scale(0.92,1)" font-size="6.52" fill="#262626" class="t">Survival up to 5yrs, <tspan font-style="italic">M</tspan><tspan font-size="5.4" dy="1.6">d</tspan><tspan dy="-1.6">=180kNm,</tspan><tspan font-style="italic">H</tspan><tspan font-size="5.4" dy="1.6">s</tspan><tspan dy="-1.6">=30kN (5% exce. prob.)</tspan></text>
</svg>
</body></html>
